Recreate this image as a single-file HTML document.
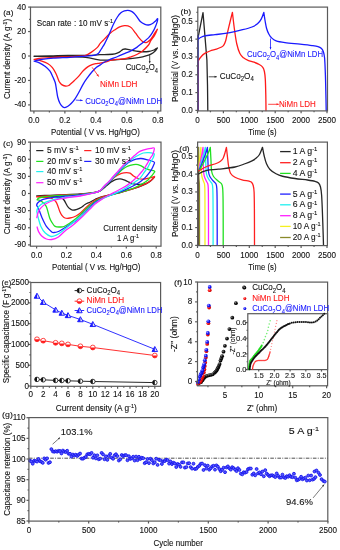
<!DOCTYPE html><html><head><meta charset="utf-8"><style>html,body{margin:0;padding:0;background:#fff;width:340px;height:550px;overflow:hidden}svg{display:block;will-change:transform}text{font-family:"Liberation Sans",sans-serif}</style></head><body>
<svg width="340" height="550" viewBox="0 0 340 550">
<defs><radialGradient id="gk" cx="0.35" cy="0.35" r="0.7"><stop offset="0" stop-color="#888"/><stop offset="0.5" stop-color="#111"/><stop offset="1" stop-color="#000"/></radialGradient><radialGradient id="gr" cx="0.35" cy="0.35" r="0.7"><stop offset="0" stop-color="#ffaaaa"/><stop offset="0.5" stop-color="#ff1010"/><stop offset="1" stop-color="#c00000"/></radialGradient><radialGradient id="gb" cx="0.35" cy="0.35" r="0.7"><stop offset="0" stop-color="#aaaaff"/><stop offset="0.5" stop-color="#1a1aff"/><stop offset="1" stop-color="#0000c0"/></radialGradient></defs>
<rect width="340" height="550" fill="#fff"/>
<path d="M34.1,56.1 C36.75,56.08 44.35,56.12 50,56 C55.65,55.88 61.08,55.5 68,55.4 C74.92,55.3 86.17,55.52 91.5,55.4 C96.83,55.28 97.25,54.85 100,54.7 C102.75,54.55 105.5,54.65 108,54.5 C110.5,54.35 113.1,54.2 115,53.8 C116.9,53.4 118.08,52.83 119.4,52.1 C120.72,51.37 121.87,49.92 122.9,49.4 C123.93,48.88 124.42,48.92 125.6,49 C126.78,49.08 127.75,49.48 130,49.9 C132.25,50.32 136.02,51.23 139.1,51.5 C142.18,51.77 145.95,51.78 148.5,51.5 C151.05,51.22 152.92,50.38 154.4,49.8 C155.88,49.22 157.6,47.52 157.4,48 C157.2,48.48 154.68,51.52 153.2,52.7 C151.72,53.88 150.27,54.42 148.5,55.1 C146.73,55.78 144.55,56.35 142.6,56.8 C140.65,57.25 139.73,57.4 136.8,57.8 C133.87,58.2 128.63,58.85 125,59.2 C121.37,59.55 117.83,59.75 115,59.9 C112.17,60.05 109.95,60.05 108,60.1 C106.05,60.15 105.07,60.28 103.3,60.2 C101.53,60.12 100.35,60.07 97.4,59.6 C94.45,59.13 90.5,57.9 85.6,57.4 C80.7,56.9 73.93,56.75 68,56.6 C62.07,56.45 55.65,56.53 50,56.5 C44.35,56.47 36.75,56.42 34.1,56.4" fill="none" stroke="#262626" stroke-width="1.3" stroke-linejoin="round" stroke-linecap="round" />
<path d="M34.1,59.4 C35.38,59.2 38.57,58.55 41.8,58.2 C45.03,57.85 48.8,57.53 53.5,57.3 C58.2,57.07 65.62,56.98 70,56.8 C74.38,56.62 77.2,56.43 79.8,56.2 C82.4,55.97 83.65,56.08 85.6,55.4 C87.55,54.72 89.53,53.43 91.5,52.1 C93.47,50.77 95.98,48.8 97.4,47.4 C98.82,46 99.02,44.9 100,43.7 C100.98,42.5 102.12,41.45 103.3,40.2 C104.48,38.95 105.82,37.48 107.1,36.2 C108.38,34.92 109.68,33.58 111,32.5 C112.32,31.42 113.55,30.65 115,29.7 C116.45,28.75 118.13,27.48 119.7,26.8 C121.27,26.12 123.03,25.75 124.4,25.6 C125.77,25.45 126.72,25.52 127.9,25.9 C129.08,26.28 130.22,26.68 131.5,27.9 C132.78,29.12 134.33,31.53 135.6,33.2 C136.87,34.87 137.93,36.52 139.1,37.9 C140.27,39.28 141.42,40.72 142.6,41.5 C143.78,42.28 145.02,42.8 146.2,42.6 C147.38,42.4 148.53,41.47 149.7,40.3 C150.87,39.13 151.92,37.47 153.2,35.6 C154.48,33.73 157.2,29.1 157.4,29.1 C157.6,29.1 155.48,33.73 154.4,35.6 C153.32,37.47 151.88,38.73 150.9,40.3 C149.92,41.87 149.88,43.23 148.5,45 C147.12,46.77 144.55,49.32 142.6,50.9 C140.65,52.48 138.75,53.52 136.8,54.5 C134.85,55.48 132.87,56.12 130.9,56.8 C128.93,57.48 127.15,58.18 125,58.6 C122.85,59.02 120.25,59.03 118,59.3 C115.75,59.57 113.5,59.78 111.5,60.2 C109.5,60.62 107.92,61.3 106,61.8 C104.08,62.3 101.58,62.9 100,63.2 C98.42,63.5 97.82,63.37 96.5,63.6 C95.18,63.83 93.57,64.05 92.1,64.6 C90.63,65.15 89.18,65.87 87.7,66.9 C86.22,67.93 84.68,69.27 83.2,70.8 C81.72,72.33 80.27,74.48 78.8,76.1 C77.33,77.72 75.78,79.18 74.4,80.5 C73.02,81.82 71.43,83.17 70.5,84 C69.57,84.83 69.68,85.17 68.8,85.5 C67.92,85.83 66.38,86.15 65.2,86 C64.02,85.85 62.65,85.27 61.7,84.6 C60.75,83.93 60.03,82.77 59.5,82 C58.97,81.23 59.1,81.42 58.5,80 C57.9,78.58 56.92,75.57 55.9,73.5 C54.88,71.43 53.78,69.27 52.4,67.6 C51.02,65.93 49.37,64.57 47.6,63.5 C45.83,62.43 44.05,61.88 41.8,61.2 C39.55,60.52 35.38,59.7 34.1,59.4" fill="none" stroke="#ff1a1a" stroke-width="1.3" stroke-linejoin="round" stroke-linecap="round" />
<path d="M34.1,61.2 C34.75,61.03 36.72,60.5 38,60.2 C39.28,59.9 39.22,59.73 41.8,59.4 C44.38,59.07 48.8,58.55 53.5,58.2 C58.2,57.85 64.65,57.63 70,57.3 C75.35,56.97 81.42,56.57 85.6,56.2 C89.78,55.83 93,55.55 95.1,55.1 C97.2,54.65 97.38,54.15 98.2,53.5 C99.02,52.85 99.35,52.15 100,51.2 C100.65,50.25 101.37,48.98 102.1,47.8 C102.83,46.62 103.43,45.88 104.4,44.1 C105.37,42.32 106.92,39.2 107.9,37.1 C108.88,35 109.32,33.77 110.3,31.5 C111.28,29.23 112.62,25.92 113.8,23.5 C114.98,21.08 116.22,18.78 117.4,17 C118.58,15.22 119.73,13.82 120.9,12.8 C122.07,11.78 123.23,11.32 124.4,10.9 C125.57,10.48 126.72,10.22 127.9,10.3 C129.08,10.38 130.48,10.9 131.5,11.4 C132.52,11.9 133.12,12.43 134,13.3 C134.88,14.17 135.75,15.23 136.8,16.6 C137.85,17.97 138.93,20.2 140.3,21.5 C141.67,22.8 143.63,23.82 145,24.4 C146.37,24.98 147.32,25.1 148.5,25 C149.68,24.9 150.92,24.48 152.1,23.8 C153.28,23.12 154.67,21.72 155.6,20.9 C156.53,20.08 157.7,18.02 157.7,18.9 C157.7,19.78 156.53,23.82 155.6,26.2 C154.67,28.58 153.28,31.25 152.1,33.2 C150.92,35.15 150.08,36.32 148.5,37.9 C146.92,39.48 144.55,41.12 142.6,42.7 C140.65,44.28 138.75,46.03 136.8,47.4 C134.85,48.77 132.87,49.92 130.9,50.9 C128.93,51.88 127.2,52.37 125,53.3 C122.8,54.23 120.4,55.38 117.7,56.5 C115,57.62 111.2,58.97 108.8,60 C106.4,61.03 104.77,61.85 103.3,62.7 C101.83,63.55 101.13,64.33 100,65.1 C98.87,65.87 97.82,66.2 96.5,67.3 C95.18,68.4 93.57,70.02 92.1,71.7 C90.63,73.38 89.18,75.33 87.7,77.4 C86.22,79.47 84.73,81.5 83.2,84.1 C81.67,86.7 79.87,90.55 78.5,93 C77.13,95.45 76.18,97.1 75,98.8 C73.82,100.5 72.58,101.95 71.4,103.2 C70.22,104.45 69,105.57 67.9,106.3 C66.8,107.03 65.68,107.53 64.8,107.6 C63.92,107.67 63.42,107.43 62.6,106.7 C61.78,105.97 60.72,104.82 59.9,103.2 C59.08,101.58 58.28,99.35 57.7,97 C57.12,94.65 56.82,91.52 56.4,89.1 C55.98,86.68 55.78,84.5 55.2,82.5 C54.62,80.5 53.77,78.98 52.9,77.1 C52.03,75.22 51.27,72.97 50,71.2 C48.73,69.43 47.07,67.88 45.3,66.5 C43.53,65.12 41.27,63.78 39.4,62.9 C37.53,62.02 34.98,61.48 34.1,61.2" fill="none" stroke="#1a1aff" stroke-width="1.3" stroke-linejoin="round" stroke-linecap="round" />
<rect x="30.5" y="7.1" width="130.3" height="103.9" fill="none" stroke="#5a5a5a" stroke-width="1.2"/>
<line x1="28.1" y1="7.1" x2="30.5" y2="7.1" stroke="#5a5a5a" stroke-width="1.2"/>
<text x="26.1" y="9.6" font-size="8.5" text-anchor="end" fill="#111" stroke="#111" stroke-width="0.1" textLength="9.01" lengthAdjust="spacingAndGlyphs">40</text>
<line x1="28.1" y1="31.55" x2="30.5" y2="31.55" stroke="#5a5a5a" stroke-width="1.2"/>
<text x="26.1" y="34.05" font-size="8.5" text-anchor="end" fill="#111" stroke="#111" stroke-width="0.1" textLength="9.01" lengthAdjust="spacingAndGlyphs">20</text>
<line x1="28.1" y1="56" x2="30.5" y2="56" stroke="#5a5a5a" stroke-width="1.2"/>
<text x="26.1" y="58.5" font-size="8.5" text-anchor="end" fill="#111" stroke="#111" stroke-width="0.1" textLength="4.5" lengthAdjust="spacingAndGlyphs">0</text>
<line x1="28.1" y1="80.45" x2="30.5" y2="80.45" stroke="#5a5a5a" stroke-width="1.2"/>
<text x="26.1" y="82.95" font-size="8.5" text-anchor="end" fill="#111" stroke="#111" stroke-width="0.1" textLength="11.71" lengthAdjust="spacingAndGlyphs">-20</text>
<line x1="28.1" y1="104.9" x2="30.5" y2="104.9" stroke="#5a5a5a" stroke-width="1.2"/>
<text x="26.1" y="107.4" font-size="8.5" text-anchor="end" fill="#111" stroke="#111" stroke-width="0.1" textLength="11.71" lengthAdjust="spacingAndGlyphs">-40</text>
<line x1="29.1" y1="19.33" x2="30.5" y2="19.33" stroke="#5a5a5a" stroke-width="1.2"/>
<line x1="29.1" y1="43.77" x2="30.5" y2="43.77" stroke="#5a5a5a" stroke-width="1.2"/>
<line x1="29.1" y1="68.22" x2="30.5" y2="68.22" stroke="#5a5a5a" stroke-width="1.2"/>
<line x1="29.1" y1="92.67" x2="30.5" y2="92.67" stroke="#5a5a5a" stroke-width="1.2"/>
<line x1="33.9" y1="111" x2="33.9" y2="113.4" stroke="#5a5a5a" stroke-width="1.2"/>
<text x="33.9" y="122.8" font-size="8.5" text-anchor="middle" fill="#111" stroke="#111" stroke-width="0.1" textLength="11.26" lengthAdjust="spacingAndGlyphs">0.0</text>
<line x1="64.88" y1="111" x2="64.88" y2="113.4" stroke="#5a5a5a" stroke-width="1.2"/>
<text x="64.88" y="122.8" font-size="8.5" text-anchor="middle" fill="#111" stroke="#111" stroke-width="0.1" textLength="11.26" lengthAdjust="spacingAndGlyphs">0.2</text>
<line x1="95.86" y1="111" x2="95.86" y2="113.4" stroke="#5a5a5a" stroke-width="1.2"/>
<text x="95.86" y="122.8" font-size="8.5" text-anchor="middle" fill="#111" stroke="#111" stroke-width="0.1" textLength="11.26" lengthAdjust="spacingAndGlyphs">0.4</text>
<line x1="126.84" y1="111" x2="126.84" y2="113.4" stroke="#5a5a5a" stroke-width="1.2"/>
<text x="126.84" y="122.8" font-size="8.5" text-anchor="middle" fill="#111" stroke="#111" stroke-width="0.1" textLength="11.26" lengthAdjust="spacingAndGlyphs">0.6</text>
<line x1="157.82" y1="111" x2="157.82" y2="113.4" stroke="#5a5a5a" stroke-width="1.2"/>
<text x="157.82" y="122.8" font-size="8.5" text-anchor="middle" fill="#111" stroke="#111" stroke-width="0.1" textLength="11.26" lengthAdjust="spacingAndGlyphs">0.8</text>
<line x1="49.39" y1="111" x2="49.39" y2="112.4" stroke="#5a5a5a" stroke-width="1.2"/>
<line x1="80.37" y1="111" x2="80.37" y2="112.4" stroke="#5a5a5a" stroke-width="1.2"/>
<line x1="111.35" y1="111" x2="111.35" y2="112.4" stroke="#5a5a5a" stroke-width="1.2"/>
<line x1="142.33" y1="111" x2="142.33" y2="112.4" stroke="#5a5a5a" stroke-width="1.2"/>
<text x="3.32" y="15.2" font-size="8.0" text-anchor="start" fill="#111" stroke="#111" stroke-width="0.1"  textLength="10.06" lengthAdjust="spacingAndGlyphs">(a)</text>
<text x="0" y="0" font-size="8.5" text-anchor="start" fill="#111" textLength="80.32" lengthAdjust="spacingAndGlyphs" stroke="#111" stroke-width="0.1" transform="translate(10.2,99.11) rotate(-90)">Current density (A g<tspan dy="-2.81" font-size="5.78">-1</tspan><tspan dy="2.81">)</tspan></text>
<text x="51.09" y="135.3" font-size="8.5" text-anchor="start" fill="#111" stroke="#111" stroke-width="0.1"  textLength="88.72" lengthAdjust="spacingAndGlyphs">Potential ( V vs. Hg/HgO)</text>
<text x="36.87" y="26.3" font-size="8.8" text-anchor="start" fill="#111" stroke="#111" stroke-width="0.1"  textLength="76.26" lengthAdjust="spacingAndGlyphs">Scan rate : 10 mV s<tspan dy="-2.9" font-size="5.98">-1</tspan></text>
<line x1="149.7" y1="55.1" x2="149.7" y2="63.3" stroke="#262626" stroke-width="0.8"/>
<path d="M149.7,63.3 L148.77,61.09 L150.63,61.09 Z" fill="#262626"/>
<text x="125.67" y="70.2" font-size="8.8" text-anchor="start" fill="#111" stroke="#111" stroke-width="0.1"  textLength="32.26" lengthAdjust="spacingAndGlyphs">CuCo<tspan dy="2.64" font-size="6.51">2</tspan><tspan dy="-2.64">O</tspan><tspan dy="2.64" font-size="6.51">4</tspan></text>
<line x1="92.1" y1="67.3" x2="98.7" y2="76.6" stroke="#ff1a1a" stroke-width="0.8"/>
<path d="M98.7,76.6 L96.49,75.23 L98.14,74.06 Z" fill="#ff1a1a"/>
<text x="99.97" y="86.6" font-size="8.8" text-anchor="start" fill="#ff1a1a" stroke="#ff1a1a" stroke-width="0.1"  textLength="37.46" lengthAdjust="spacingAndGlyphs">NiMn LDH</text>
<line x1="75.8" y1="100.1" x2="82.6" y2="100.5" stroke="#1a1aff" stroke-width="0.8"/>
<path d="M82.6,100.5 L80.15,101.37 L80.27,99.35 Z" fill="#1a1aff"/>
<text x="85.27" y="103.6" font-size="8.8" text-anchor="start" fill="#1a1aff" stroke="#1a1aff" stroke-width="0.1"  textLength="76.86" lengthAdjust="spacingAndGlyphs">CuCo<tspan dy="2.64" font-size="6.51">2</tspan><tspan dy="-2.64">O</tspan><tspan dy="2.64" font-size="6.51">4</tspan><tspan dy="-2.64">@NiMn LDH</tspan></text>
<path d="M197.9,110.5 L197.9,40 L198.1,37.4 L203,12.6 L204.8,34.4 L206.9,60 L207.5,85 L207.8,110.5" fill="none" stroke="#262626" stroke-width="1.3" stroke-linejoin="round" stroke-linecap="round" />
<path d="M198,110.5 C198,102.75 197.92,72.33 198,64 C198.08,55.67 197.92,61.8 198.5,60.5 C199.08,59.2 200.45,57.38 201.5,56.2 C202.55,55.02 203.38,54.27 204.8,53.4 C206.22,52.53 208.05,51.72 210,51 C211.95,50.28 214.67,49.72 216.5,49.1 C218.33,48.48 219.82,47.93 221,47.3 C222.18,46.67 222.83,46.35 223.6,45.3 C224.37,44.25 224.98,42.98 225.6,41 C226.22,39.02 226.58,36.48 227.3,33.4 C228.02,30.32 229.05,26 229.9,22.5 C230.75,19 231.98,14.08 232.4,12.4 L232.4,12.4 C232.73,15.17 233.67,23.73 234.4,29 C235.13,34.27 235.88,39.92 236.8,44 C237.72,48.08 238.78,51.2 239.9,53.5 C241.02,55.8 242.15,56.67 243.5,57.8 C244.85,58.93 246.25,59.57 248,60.3 C249.75,61.03 252.12,61.5 254,62.2 C255.88,62.9 257.83,63.65 259.3,64.5 C260.77,65.35 261.95,66.13 262.8,67.3 C263.65,68.47 263.98,69.53 264.4,71.5 C264.82,73.47 265.07,75.18 265.3,79.1 C265.53,83.02 265.68,89.77 265.8,95 C265.92,100.23 265.97,107.92 266,110.5" fill="none" stroke="#ff1a1a" stroke-width="1.3" stroke-linejoin="round" stroke-linecap="round" />
<path d="M197.9,110.5 C197.9,98.92 197.8,52.88 197.9,41 C198,29.12 197.98,39.82 198.5,39.2 C199.02,38.58 199.95,37.87 201,37.3 C202.05,36.73 202.47,36.25 204.8,35.8 C207.13,35.35 211.3,35.03 215,34.6 C218.7,34.17 222.4,34.02 227,33.2 C231.6,32.38 238.43,30.73 242.6,29.7 C246.77,28.67 249.52,27.98 252,27 C254.48,26.02 255.97,25.12 257.5,23.8 C259.03,22.48 260.15,21 261.2,19.1 C262.25,17.2 263.37,13.52 263.8,12.4 L263.8,12.4 C264.03,13.92 264.73,18.82 265.2,21.5 C265.67,24.18 266,26.42 266.6,28.5 C267.2,30.58 267.98,32.45 268.8,34 C269.62,35.55 270.28,36.67 271.5,37.8 C272.72,38.93 273.85,40 276.1,40.8 C278.35,41.6 281.02,42.03 285,42.6 C288.98,43.17 295.5,43.7 300,44.2 C304.5,44.7 309,45.2 312,45.6 C315,46 316.47,46.17 318,46.6 C319.53,47.03 320.32,47.38 321.2,48.2 C322.08,49.02 322.73,49.87 323.3,51.5 C323.87,53.13 324.25,54.08 324.6,58 C324.95,61.92 325.18,68.83 325.4,75 C325.62,81.17 325.77,89.08 325.9,95 C326.03,100.92 326.15,107.92 326.2,110.5" fill="none" stroke="#1a1aff" stroke-width="1.3" stroke-linejoin="round" stroke-linecap="round" />
<rect x="197.8" y="7.1" width="129.7" height="103.8" fill="none" stroke="#5a5a5a" stroke-width="1.2"/>
<line x1="195.4" y1="21.3" x2="197.8" y2="21.3" stroke="#5a5a5a" stroke-width="1.2"/>
<text x="192.7" y="23.8" font-size="8.5" text-anchor="end" fill="#111" stroke="#111" stroke-width="0.1" textLength="11.26" lengthAdjust="spacingAndGlyphs">0.5</text>
<line x1="195.4" y1="39.12" x2="197.8" y2="39.12" stroke="#5a5a5a" stroke-width="1.2"/>
<text x="192.7" y="41.62" font-size="8.5" text-anchor="end" fill="#111" stroke="#111" stroke-width="0.1" textLength="11.26" lengthAdjust="spacingAndGlyphs">0.4</text>
<line x1="195.4" y1="56.94" x2="197.8" y2="56.94" stroke="#5a5a5a" stroke-width="1.2"/>
<text x="192.7" y="59.44" font-size="8.5" text-anchor="end" fill="#111" stroke="#111" stroke-width="0.1" textLength="11.26" lengthAdjust="spacingAndGlyphs">0.3</text>
<line x1="195.4" y1="74.76" x2="197.8" y2="74.76" stroke="#5a5a5a" stroke-width="1.2"/>
<text x="192.7" y="77.26" font-size="8.5" text-anchor="end" fill="#111" stroke="#111" stroke-width="0.1" textLength="11.26" lengthAdjust="spacingAndGlyphs">0.2</text>
<line x1="195.4" y1="92.58" x2="197.8" y2="92.58" stroke="#5a5a5a" stroke-width="1.2"/>
<text x="192.7" y="95.08" font-size="8.5" text-anchor="end" fill="#111" stroke="#111" stroke-width="0.1" textLength="11.26" lengthAdjust="spacingAndGlyphs">0.1</text>
<line x1="195.4" y1="110.4" x2="197.8" y2="110.4" stroke="#5a5a5a" stroke-width="1.2"/>
<text x="192.7" y="112.9" font-size="8.5" text-anchor="end" fill="#111" stroke="#111" stroke-width="0.1" textLength="11.26" lengthAdjust="spacingAndGlyphs">0.0</text>
<line x1="196.4" y1="12.39" x2="197.8" y2="12.39" stroke="#5a5a5a" stroke-width="1.2"/>
<line x1="196.4" y1="30.21" x2="197.8" y2="30.21" stroke="#5a5a5a" stroke-width="1.2"/>
<line x1="196.4" y1="48.03" x2="197.8" y2="48.03" stroke="#5a5a5a" stroke-width="1.2"/>
<line x1="196.4" y1="65.85" x2="197.8" y2="65.85" stroke="#5a5a5a" stroke-width="1.2"/>
<line x1="196.4" y1="83.67" x2="197.8" y2="83.67" stroke="#5a5a5a" stroke-width="1.2"/>
<line x1="196.4" y1="101.49" x2="197.8" y2="101.49" stroke="#5a5a5a" stroke-width="1.2"/>
<line x1="197.5" y1="110.9" x2="197.5" y2="113.3" stroke="#5a5a5a" stroke-width="1.2"/>
<text x="197.5" y="122.8" font-size="8.5" text-anchor="middle" fill="#111" stroke="#111" stroke-width="0.1" textLength="4.5" lengthAdjust="spacingAndGlyphs">0</text>
<line x1="223.4" y1="110.9" x2="223.4" y2="113.3" stroke="#5a5a5a" stroke-width="1.2"/>
<text x="223.4" y="122.8" font-size="8.5" text-anchor="middle" fill="#111" stroke="#111" stroke-width="0.1" textLength="13.51" lengthAdjust="spacingAndGlyphs">500</text>
<line x1="249.3" y1="110.9" x2="249.3" y2="113.3" stroke="#5a5a5a" stroke-width="1.2"/>
<text x="249.3" y="122.8" font-size="8.5" text-anchor="middle" fill="#111" stroke="#111" stroke-width="0.1" textLength="18.02" lengthAdjust="spacingAndGlyphs">1000</text>
<line x1="275.2" y1="110.9" x2="275.2" y2="113.3" stroke="#5a5a5a" stroke-width="1.2"/>
<text x="275.2" y="122.8" font-size="8.5" text-anchor="middle" fill="#111" stroke="#111" stroke-width="0.1" textLength="18.02" lengthAdjust="spacingAndGlyphs">1500</text>
<line x1="301.1" y1="110.9" x2="301.1" y2="113.3" stroke="#5a5a5a" stroke-width="1.2"/>
<text x="301.1" y="122.8" font-size="8.5" text-anchor="middle" fill="#111" stroke="#111" stroke-width="0.1" textLength="18.02" lengthAdjust="spacingAndGlyphs">2000</text>
<line x1="327" y1="110.9" x2="327" y2="113.3" stroke="#5a5a5a" stroke-width="1.2"/>
<text x="327" y="122.8" font-size="8.5" text-anchor="middle" fill="#111" stroke="#111" stroke-width="0.1" textLength="18.02" lengthAdjust="spacingAndGlyphs">2500</text>
<line x1="210.45" y1="110.9" x2="210.45" y2="112.3" stroke="#5a5a5a" stroke-width="1.2"/>
<line x1="236.35" y1="110.9" x2="236.35" y2="112.3" stroke="#5a5a5a" stroke-width="1.2"/>
<line x1="262.25" y1="110.9" x2="262.25" y2="112.3" stroke="#5a5a5a" stroke-width="1.2"/>
<line x1="288.15" y1="110.9" x2="288.15" y2="112.3" stroke="#5a5a5a" stroke-width="1.2"/>
<line x1="314.05" y1="110.9" x2="314.05" y2="112.3" stroke="#5a5a5a" stroke-width="1.2"/>
<text x="180.52" y="14.2" font-size="8.0" text-anchor="start" fill="#111" stroke="#111" stroke-width="0.1"  textLength="10.66" lengthAdjust="spacingAndGlyphs">(b)</text>
<text x="0" y="0" font-size="8.5" text-anchor="start" fill="#111" textLength="87.12" lengthAdjust="spacingAndGlyphs" stroke="#111" stroke-width="0.1" transform="translate(177.8,102.11) rotate(-90)">Potential (V vs. Hg/HgO)</text>
<text x="248.29" y="135.3" font-size="8.5" text-anchor="start" fill="#111" stroke="#111" stroke-width="0.1"  textLength="28.22" lengthAdjust="spacingAndGlyphs">Time (s)</text>
<line x1="208.7" y1="76.8" x2="216.8" y2="76.8" stroke="#262626" stroke-width="0.8"/>
<path d="M216.8,76.8 L214.59,77.73 L214.59,75.87 Z" fill="#262626"/>
<text x="219.87" y="78.8" font-size="8.8" text-anchor="start" fill="#111" stroke="#111" stroke-width="0.1"  textLength="33.86" lengthAdjust="spacingAndGlyphs">CuCo<tspan dy="2.64" font-size="6.51">2</tspan><tspan dy="-2.64">O</tspan><tspan dy="2.64" font-size="6.51">4</tspan></text>
<line x1="270.5" y1="38.5" x2="270.5" y2="49.3" stroke="#1a1aff" stroke-width="0.8"/>
<path d="M270.5,49.3 L269.57,47.09 L271.43,47.09 Z" fill="#1a1aff"/>
<text x="246.97" y="57" font-size="8.8" text-anchor="start" fill="#1a1aff" stroke="#1a1aff" stroke-width="0.1"  textLength="76.06" lengthAdjust="spacingAndGlyphs">CuCo<tspan dy="2.64" font-size="6.51">2</tspan><tspan dy="-2.64">O</tspan><tspan dy="2.64" font-size="6.51">4</tspan><tspan dy="-2.64">@NiMn LDH</tspan></text>
<line x1="268.2" y1="104.3" x2="278.8" y2="104.3" stroke="#ff1a1a" stroke-width="0.8"/>
<path d="M278.8,104.3 L276.59,105.23 L276.59,103.37 Z" fill="#ff1a1a"/>
<text x="279.07" y="106.5" font-size="8.8" text-anchor="start" fill="#ff1a1a" stroke="#ff1a1a" stroke-width="0.1"  textLength="36.76" lengthAdjust="spacingAndGlyphs">NiMn LDH</text>
<path d="M37.2,195.8 C39.33,195.72 46.2,195.47 50,195.3 C53.8,195.13 55,195.02 60,194.8 C65,194.58 74.17,194.42 80,194 C85.83,193.58 91.67,192.8 95,192.3 C98.33,191.8 98.5,191.72 100,191 C101.5,190.28 102.67,189.08 104,188 C105.33,186.92 106.75,185.53 108,184.5 C109.25,183.47 110.25,182.62 111.5,181.8 C112.75,180.98 114.08,180.08 115.5,179.6 C116.92,179.12 118.58,178.87 120,178.9 C121.42,178.93 122.73,179.37 124,179.8 C125.27,180.23 126.02,180.83 127.6,181.5 C129.18,182.17 131.33,183.32 133.5,183.8 C135.67,184.28 138.35,184.53 140.6,184.4 C142.85,184.27 145.27,183.65 147,183 C148.73,182.35 149.75,181.5 151,180.5 C152.25,179.5 154.62,176.87 154.5,177 C154.38,177.13 151.73,180.15 150.3,181.3 C148.87,182.45 147.92,182.92 145.9,183.9 C143.88,184.88 140.85,186.23 138.2,187.2 C135.55,188.17 133.03,188.8 130,189.7 C126.97,190.6 123.33,191.75 120,192.6 C116.67,193.45 113.33,194.02 110,194.8 C106.67,195.58 102.5,196.52 100,197.3 C97.5,198.08 96.62,198.72 95,199.5 C93.38,200.28 91.97,201.17 90.3,202 C88.63,202.83 86.47,203.62 85,204.5 C83.53,205.38 82.83,206.5 81.5,207.3 C80.17,208.1 78.48,208.83 77,209.3 C75.52,209.77 73.85,210.23 72.6,210.1 C71.35,209.97 70.38,209.18 69.5,208.5 C68.62,207.82 68.22,207.42 67.3,206 C66.38,204.58 65.07,201.4 64,200 C62.93,198.6 62.4,198.18 60.9,197.6 C59.4,197.02 57.65,196.73 55,196.5 C52.35,196.27 47.97,196.28 45,196.2 C42.03,196.12 38.5,196.07 37.2,196 C35.9,195.93 37.2,195.83 37.2,195.8" fill="none" stroke="#262626" stroke-width="1.3" stroke-linejoin="round" stroke-linecap="round" />
<path d="M37.2,196.6 C39.33,196.47 46.2,196.03 50,195.8 C53.8,195.57 55,195.45 60,195.2 C65,194.95 74.17,194.77 80,194.3 C85.83,193.83 91.67,192.98 95,192.4 C98.33,191.82 98.42,191.78 100,190.8 C101.58,189.82 103.03,187.88 104.5,186.5 C105.97,185.12 107.35,183.88 108.8,182.5 C110.25,181.12 111.75,179.42 113.2,178.2 C114.65,176.98 116.12,176.02 117.5,175.2 C118.88,174.38 120,173.73 121.5,173.3 C123,172.87 125.08,172.62 126.5,172.6 C127.92,172.58 128.83,172.63 130,173.2 C131.17,173.77 132.13,175.12 133.5,176 C134.87,176.88 136.62,177.98 138.2,178.5 C139.78,179.02 141.43,179.12 143,179.1 C144.57,179.08 146.27,178.65 147.6,178.4 C148.93,178.15 149.85,177.9 151,177.6 C152.15,177.3 154.62,176.02 154.5,176.6 C154.38,177.18 151.73,179.92 150.3,181.1 C148.87,182.28 147.92,182.72 145.9,183.7 C143.88,184.68 140.85,186.02 138.2,187 C135.55,187.98 133.03,188.65 130,189.6 C126.97,190.55 123.33,191.8 120,192.7 C116.67,193.6 113.33,194.15 110,195 C106.67,195.85 102.5,196.88 100,197.8 C97.5,198.72 96.67,199.47 95,200.5 C93.33,201.53 91.67,202.67 90,204 C88.33,205.33 86.5,207.08 85,208.5 C83.5,209.92 82.5,211.25 81,212.5 C79.5,213.75 77.83,215.08 76,216 C74.17,216.92 71.83,217.67 70,218 C68.17,218.33 66.33,218.42 65,218 C63.67,217.58 62.85,216.53 62,215.5 C61.15,214.47 60.65,213.55 59.9,211.8 C59.15,210.05 58.2,206.72 57.5,205 C56.8,203.28 56.62,202.58 55.7,201.5 C54.78,200.42 53.78,199.2 52,198.5 C50.22,197.8 47.47,197.57 45,197.3 C42.53,197.03 38.5,197.02 37.2,196.9 C35.9,196.78 37.2,196.65 37.2,196.6" fill="none" stroke="#ff2020" stroke-width="1.3" stroke-linejoin="round" stroke-linecap="round" />
<path d="M37.1,199.7 C37.37,199.43 37.7,198.55 38.7,198.1 C39.7,197.65 41.22,197.32 43.1,197 C44.98,196.68 47.18,196.43 50,196.2 C52.82,195.97 55,195.87 60,195.6 C65,195.33 74.17,195.12 80,194.6 C85.83,194.08 91.67,193.12 95,192.5 C98.33,191.88 98.5,191.82 100,190.9 C101.5,189.98 102.53,188.4 104,187 C105.47,185.6 107.3,184 108.8,182.5 C110.3,181 111.52,179.45 113,178 C114.48,176.55 116.2,175.17 117.7,173.8 C119.2,172.43 120.62,170.93 122,169.8 C123.38,168.67 124.67,167.73 126,167 C127.33,166.27 128.33,165.85 130,165.4 C131.67,164.95 134.22,164.27 136,164.3 C137.78,164.33 139.23,164.97 140.7,165.6 C142.17,166.23 143.33,167.4 144.8,168.1 C146.27,168.8 148.03,169.38 149.5,169.8 C150.97,170.22 152.72,170.32 153.6,170.6 C154.48,170.88 154.8,171.05 154.8,171.5 C154.8,171.95 154.08,172.62 153.6,173.3 C153.12,173.98 152.48,174.92 151.9,175.6 C151.32,176.28 150.8,176.63 150.1,177.4 C149.4,178.17 148.85,179.22 147.7,180.2 C146.55,181.18 145.32,182.08 143.2,183.3 C141.08,184.52 138.03,186.22 135,187.5 C131.97,188.78 128.33,189.95 125,191 C121.67,192.05 117.83,192.97 115,193.8 C112.17,194.63 110.5,195.17 108,196 C105.5,196.83 102.17,197.88 100,198.8 C97.83,199.72 96.67,200.38 95,201.5 C93.33,202.62 91.67,204.08 90,205.5 C88.33,206.92 86.42,208.67 85,210 C83.58,211.33 83,212.08 81.5,213.5 C80,214.92 77.92,216.92 76,218.5 C74.08,220.08 72,221.67 70,223 C68,224.33 65.67,225.83 64,226.5 C62.33,227.17 61.48,227.02 60,227 C58.52,226.98 56.43,227.15 55.1,226.4 C53.77,225.65 52.92,223.95 52,222.5 C51.08,221.05 50.53,220.32 49.6,217.7 C48.67,215.08 47.5,209.33 46.4,206.8 C45.3,204.27 44.07,203.55 43,202.5 C41.93,201.45 40.98,200.97 40,200.5 C39.02,200.03 37.58,199.83 37.1,199.7" fill="none" stroke="#20e020" stroke-width="1.3" stroke-linejoin="round" stroke-linecap="round" />
<path d="M36.6,205.2 C36.77,204.83 36.88,203.82 37.6,203 C38.32,202.18 39.43,201.03 40.9,200.3 C42.37,199.57 44.05,199.12 46.4,198.6 C48.75,198.08 51.9,197.6 55,197.2 C58.1,196.8 60.83,196.57 65,196.2 C69.17,195.83 75,195.6 80,195 C85,194.4 91.67,193.3 95,192.6 C98.33,191.9 98.5,191.73 100,190.8 C101.5,189.87 102.53,188.42 104,187 C105.47,185.58 107.3,183.83 108.8,182.3 C110.3,180.77 111.52,179.38 113,177.8 C114.48,176.22 116.2,174.38 117.7,172.8 C119.2,171.22 120.62,169.68 122,168.3 C123.38,166.92 124.67,165.6 126,164.5 C127.33,163.4 128.33,162.58 130,161.7 C131.67,160.82 134.17,159.73 136,159.2 C137.83,158.67 139.05,158.38 141,158.5 C142.95,158.62 145.68,159.4 147.7,159.9 C149.72,160.4 151.97,161.03 153.1,161.5 C154.23,161.97 154.42,162.1 154.5,162.7 C154.58,163.3 154.13,163.92 153.6,165.1 C153.07,166.28 152.17,168.33 151.3,169.8 C150.43,171.27 149.38,172.63 148.4,173.9 C147.42,175.17 146.7,176.13 145.4,177.4 C144.1,178.67 142.33,180.23 140.6,181.5 C138.87,182.77 137.6,183.62 135,185 C132.4,186.38 128.33,188.38 125,189.8 C121.67,191.22 117.83,192.47 115,193.5 C112.17,194.53 110.5,195 108,196 C105.5,197 102.17,198.42 100,199.5 C97.83,200.58 96.67,201.25 95,202.5 C93.33,203.75 91.83,205.25 90,207 C88.17,208.75 86.1,210.92 84,213 C81.9,215.08 79.73,217.58 77.4,219.5 C75.07,221.42 72.57,222.83 70,224.5 C67.43,226.17 63.93,228.33 62,229.5 C60.07,230.67 59.73,231 58.4,231.5 C57.07,232 55.1,232.43 54,232.5 C52.9,232.57 53.07,232.92 51.8,231.9 C50.53,230.88 48.03,228.77 46.4,226.4 C44.77,224.03 43.28,220.6 42,217.7 C40.72,214.8 39.6,211.08 38.7,209 C37.8,206.92 36.95,205.83 36.6,205.2" fill="none" stroke="#2020ff" stroke-width="1.3" stroke-linejoin="round" stroke-linecap="round" />
<path d="M36.8,211.5 C36.93,210.98 36.92,209.55 37.6,208.4 C38.28,207.25 39.43,205.68 40.9,204.6 C42.37,203.52 44.05,202.8 46.4,201.9 C48.75,201 51.9,199.93 55,199.2 C58.1,198.47 60.83,198.1 65,197.5 C69.17,196.9 75,196.42 80,195.6 C85,194.78 91.67,193.42 95,192.6 C98.33,191.78 98.5,191.73 100,190.7 C101.5,189.67 102.53,187.87 104,186.4 C105.47,184.93 107.3,183.42 108.8,181.9 C110.3,180.38 111.52,178.9 113,177.3 C114.48,175.7 116.2,173.93 117.7,172.3 C119.2,170.67 120.62,168.95 122,167.5 C123.38,166.05 124.67,164.75 126,163.6 C127.33,162.45 128.33,161.78 130,160.6 C131.67,159.42 133.8,157.77 136,156.5 C138.2,155.23 141.03,153.65 143.2,153 C145.37,152.35 147.23,152.48 149,152.6 C150.77,152.72 152.92,153.38 153.8,153.7 C154.68,154.02 154.3,154.12 154.3,154.5 C154.3,154.88 154,155.42 153.8,156 C153.6,156.58 153.72,156.88 153.1,158 C152.48,159.12 150.98,161.13 150.1,162.7 C149.22,164.27 148.68,165.93 147.8,167.4 C146.92,168.87 145.98,169.83 144.8,171.5 C143.62,173.17 141.98,175.9 140.7,177.4 C139.42,178.9 138.88,179.18 137.1,180.5 C135.32,181.82 132.18,183.88 130,185.3 C127.82,186.72 126.5,187.67 124,189 C121.5,190.33 117.67,192.1 115,193.3 C112.33,194.5 110.5,195.08 108,196.2 C105.5,197.32 102.17,198.78 100,200 C97.83,201.22 96.67,202.17 95,203.5 C93.33,204.83 92,206.17 90,208 C88,209.83 85.8,212.08 83,214.5 C80.2,216.92 76.2,220.08 73.2,222.5 C70.2,224.92 67.47,227.08 65,229 C62.53,230.92 60.23,232.83 58.4,234 C56.57,235.17 55.28,235.62 54,236 C52.72,236.38 52.15,236.8 50.7,236.3 C49.25,235.8 46.93,234.65 45.3,233 C43.67,231.35 42.08,228.95 40.9,226.4 C39.72,223.85 38.88,220.18 38.2,217.7 C37.52,215.22 37.03,212.53 36.8,211.5" fill="none" stroke="#20f0f0" stroke-width="1.3" stroke-linejoin="round" stroke-linecap="round" />
<path d="M36.8,217.7 C37.03,216.8 37.52,213.93 38.2,212.3 C38.88,210.67 39.53,209.37 40.9,207.9 C42.27,206.43 44.05,204.82 46.4,203.5 C48.75,202.18 51.9,200.92 55,200 C58.1,199.08 60.83,198.67 65,198 C69.17,197.33 75,196.88 80,196 C85,195.12 91.67,193.6 95,192.7 C98.33,191.8 98.5,191.68 100,190.6 C101.5,189.52 102.53,187.7 104,186.2 C105.47,184.7 107.3,183.17 108.8,181.6 C110.3,180.03 111.52,178.47 113,176.8 C114.48,175.13 116.2,173.3 117.7,171.6 C119.2,169.9 120.53,168.15 122,166.6 C123.47,165.05 125.17,163.43 126.5,162.3 C127.83,161.17 128.67,160.92 130,159.8 C131.33,158.68 133.03,156.9 134.5,155.6 C135.97,154.3 137.38,152.9 138.8,152 C140.22,151.1 141.52,150.72 143,150.2 C144.48,149.68 146.37,149.22 147.7,148.9 C149.03,148.58 149.9,148.45 151,148.3 C152.1,148.15 153.87,147.38 154.3,148 C154.73,148.62 153.95,150.75 153.6,152 C153.25,153.25 152.73,154.5 152.2,155.5 C151.67,156.5 151.13,156.8 150.4,158 C149.67,159.2 148.73,161.08 147.8,162.7 C146.87,164.32 145.78,166.23 144.8,167.7 C143.82,169.17 142.97,170.18 141.9,171.5 C140.83,172.82 139.28,174.62 138.4,175.6 C137.52,176.58 137.5,176.55 136.6,177.4 C135.7,178.25 134.43,179.5 133,180.7 C131.57,181.9 129.83,183.33 128,184.6 C126.17,185.87 124,187.15 122,188.3 C120,189.45 118,190.47 116,191.5 C114,192.53 112,193.45 110,194.5 C108,195.55 105.67,196.8 104,197.8 C102.33,198.8 101.5,199.47 100,200.5 C98.5,201.53 96.67,202.58 95,204 C93.33,205.42 92,207 90,209 C88,211 85.33,213.75 83,216 C80.67,218.25 77.97,220.75 76,222.5 C74.03,224.25 73.03,225.08 71.2,226.5 C69.37,227.92 67.13,229.25 65,231 C62.87,232.75 60.6,235.58 58.4,237 C56.2,238.42 53.8,239.17 51.8,239.5 C49.8,239.83 48.03,239.53 46.4,239 C44.77,238.47 43.28,237.48 42,236.3 C40.72,235.12 39.52,233.45 38.7,231.9 C37.88,230.35 37.37,227.82 37.1,227" fill="none" stroke="#ff20ff" stroke-width="1.3" stroke-linejoin="round" stroke-linecap="round" />
<rect x="30.4" y="142.1" width="130.6" height="104.1" fill="none" stroke="#5a5a5a" stroke-width="1.2"/>
<line x1="28" y1="142.11" x2="30.4" y2="142.11" stroke="#5a5a5a" stroke-width="1.2"/>
<text x="26.1" y="144.61" font-size="8.5" text-anchor="end" fill="#111" stroke="#111" stroke-width="0.1" textLength="9.01" lengthAdjust="spacingAndGlyphs">90</text>
<line x1="28" y1="159.24" x2="30.4" y2="159.24" stroke="#5a5a5a" stroke-width="1.2"/>
<text x="26.1" y="161.74" font-size="8.5" text-anchor="end" fill="#111" stroke="#111" stroke-width="0.1" textLength="9.01" lengthAdjust="spacingAndGlyphs">60</text>
<line x1="28" y1="176.37" x2="30.4" y2="176.37" stroke="#5a5a5a" stroke-width="1.2"/>
<text x="26.1" y="178.87" font-size="8.5" text-anchor="end" fill="#111" stroke="#111" stroke-width="0.1" textLength="9.01" lengthAdjust="spacingAndGlyphs">30</text>
<line x1="28" y1="193.5" x2="30.4" y2="193.5" stroke="#5a5a5a" stroke-width="1.2"/>
<text x="26.1" y="196" font-size="8.5" text-anchor="end" fill="#111" stroke="#111" stroke-width="0.1" textLength="4.5" lengthAdjust="spacingAndGlyphs">0</text>
<line x1="28" y1="210.63" x2="30.4" y2="210.63" stroke="#5a5a5a" stroke-width="1.2"/>
<text x="26.1" y="213.13" font-size="8.5" text-anchor="end" fill="#111" stroke="#111" stroke-width="0.1" textLength="11.71" lengthAdjust="spacingAndGlyphs">-30</text>
<line x1="28" y1="227.76" x2="30.4" y2="227.76" stroke="#5a5a5a" stroke-width="1.2"/>
<text x="26.1" y="230.26" font-size="8.5" text-anchor="end" fill="#111" stroke="#111" stroke-width="0.1" textLength="11.71" lengthAdjust="spacingAndGlyphs">-60</text>
<line x1="28" y1="244.89" x2="30.4" y2="244.89" stroke="#5a5a5a" stroke-width="1.2"/>
<text x="26.1" y="247.39" font-size="8.5" text-anchor="end" fill="#111" stroke="#111" stroke-width="0.1" textLength="11.71" lengthAdjust="spacingAndGlyphs">-90</text>
<line x1="29" y1="150.68" x2="30.4" y2="150.68" stroke="#5a5a5a" stroke-width="1.2"/>
<line x1="29" y1="167.81" x2="30.4" y2="167.81" stroke="#5a5a5a" stroke-width="1.2"/>
<line x1="29" y1="184.94" x2="30.4" y2="184.94" stroke="#5a5a5a" stroke-width="1.2"/>
<line x1="29" y1="202.06" x2="30.4" y2="202.06" stroke="#5a5a5a" stroke-width="1.2"/>
<line x1="29" y1="219.19" x2="30.4" y2="219.19" stroke="#5a5a5a" stroke-width="1.2"/>
<line x1="29" y1="236.32" x2="30.4" y2="236.32" stroke="#5a5a5a" stroke-width="1.2"/>
<line x1="36.6" y1="246.2" x2="36.6" y2="248.6" stroke="#5a5a5a" stroke-width="1.2"/>
<text x="36.6" y="258.2" font-size="8.5" text-anchor="middle" fill="#111" stroke="#111" stroke-width="0.1" textLength="11.26" lengthAdjust="spacingAndGlyphs">0.0</text>
<line x1="66.5" y1="246.2" x2="66.5" y2="248.6" stroke="#5a5a5a" stroke-width="1.2"/>
<text x="66.5" y="258.2" font-size="8.5" text-anchor="middle" fill="#111" stroke="#111" stroke-width="0.1" textLength="11.26" lengthAdjust="spacingAndGlyphs">0.2</text>
<line x1="96.4" y1="246.2" x2="96.4" y2="248.6" stroke="#5a5a5a" stroke-width="1.2"/>
<text x="96.4" y="258.2" font-size="8.5" text-anchor="middle" fill="#111" stroke="#111" stroke-width="0.1" textLength="11.26" lengthAdjust="spacingAndGlyphs">0.4</text>
<line x1="126.3" y1="246.2" x2="126.3" y2="248.6" stroke="#5a5a5a" stroke-width="1.2"/>
<text x="126.3" y="258.2" font-size="8.5" text-anchor="middle" fill="#111" stroke="#111" stroke-width="0.1" textLength="11.26" lengthAdjust="spacingAndGlyphs">0.6</text>
<line x1="156.2" y1="246.2" x2="156.2" y2="248.6" stroke="#5a5a5a" stroke-width="1.2"/>
<text x="156.2" y="258.2" font-size="8.5" text-anchor="middle" fill="#111" stroke="#111" stroke-width="0.1" textLength="11.26" lengthAdjust="spacingAndGlyphs">0.8</text>
<line x1="51.55" y1="246.2" x2="51.55" y2="247.6" stroke="#5a5a5a" stroke-width="1.2"/>
<line x1="81.45" y1="246.2" x2="81.45" y2="247.6" stroke="#5a5a5a" stroke-width="1.2"/>
<line x1="111.35" y1="246.2" x2="111.35" y2="247.6" stroke="#5a5a5a" stroke-width="1.2"/>
<line x1="141.25" y1="246.2" x2="141.25" y2="247.6" stroke="#5a5a5a" stroke-width="1.2"/>
<text x="3.12" y="145.9" font-size="8.0" text-anchor="start" fill="#111" stroke="#111" stroke-width="0.1"  textLength="9.96" lengthAdjust="spacingAndGlyphs">(c)</text>
<text x="0" y="0" font-size="8.5" text-anchor="start" fill="#111" textLength="80.62" lengthAdjust="spacingAndGlyphs" stroke="#111" stroke-width="0.1" transform="translate(10.2,234.21) rotate(-90)">Current density (A g<tspan dy="-2.81" font-size="5.78">-1</tspan><tspan dy="2.81">)</tspan></text>
<text x="52.09" y="269.8" font-size="8.5" text-anchor="start" fill="#111" stroke="#111" stroke-width="0.1"  textLength="88.42" lengthAdjust="spacingAndGlyphs">Potential ( V <tspan font-style="italic">vs.</tspan> Hg/HgO)</text>
<line x1="36.2" y1="150.6" x2="43.4" y2="150.6" stroke="#262626" stroke-width="1.2"/>
<text x="46.97" y="153.1" font-size="8.8" text-anchor="start" fill="#111" stroke="#111" stroke-width="0.1"  textLength="31.66" lengthAdjust="spacingAndGlyphs">5 mV s<tspan dy="-2.9" font-size="5.98">-1</tspan></text>
<line x1="36.2" y1="161.4" x2="43.4" y2="161.4" stroke="#20e020" stroke-width="1.2"/>
<text x="46.97" y="163.9" font-size="8.8" text-anchor="start" fill="#111" stroke="#111" stroke-width="0.1"  textLength="35.36" lengthAdjust="spacingAndGlyphs">20 mV s<tspan dy="-2.9" font-size="5.98">-1</tspan></text>
<line x1="36.2" y1="171.6" x2="43.4" y2="171.6" stroke="#20f0f0" stroke-width="1.2"/>
<text x="46.97" y="174.1" font-size="8.8" text-anchor="start" fill="#111" stroke="#111" stroke-width="0.1"  textLength="35.36" lengthAdjust="spacingAndGlyphs">40 mV s<tspan dy="-2.9" font-size="5.98">-1</tspan></text>
<line x1="36.2" y1="182.7" x2="43.4" y2="182.7" stroke="#ff20ff" stroke-width="1.2"/>
<text x="46.97" y="185.2" font-size="8.8" text-anchor="start" fill="#111" stroke="#111" stroke-width="0.1"  textLength="35.36" lengthAdjust="spacingAndGlyphs">50 mV s<tspan dy="-2.9" font-size="5.98">-1</tspan></text>
<line x1="84.2" y1="150.6" x2="91.4" y2="150.6" stroke="#ff2020" stroke-width="1.2"/>
<text x="94.97" y="153.1" font-size="8.8" text-anchor="start" fill="#111" stroke="#111" stroke-width="0.1"  textLength="36.06" lengthAdjust="spacingAndGlyphs">10 mV s<tspan dy="-2.9" font-size="5.98">-1</tspan></text>
<line x1="84.2" y1="161.4" x2="91.4" y2="161.4" stroke="#2020ff" stroke-width="1.2"/>
<text x="94.97" y="163.9" font-size="8.8" text-anchor="start" fill="#111" stroke="#111" stroke-width="0.1"  textLength="36.06" lengthAdjust="spacingAndGlyphs">30 mV s<tspan dy="-2.9" font-size="5.98">-1</tspan></text>
<text x="103.37" y="230.5" font-size="8.8" text-anchor="start" fill="#111" stroke="#111" stroke-width="0.1"  textLength="53.96" lengthAdjust="spacingAndGlyphs">Current density</text>
<text x="117.07" y="240.7" font-size="8.8" text-anchor="start" fill="#111" stroke="#111" stroke-width="0.1"  textLength="21.96" lengthAdjust="spacingAndGlyphs">1 A g<tspan dy="-2.9" font-size="5.98">-1</tspan></text>
<path d="M197.8,245.4 C197.8,233.75 197.72,187.65 197.8,175.5 C197.88,163.35 198.24,174.58 198.3,172.5 C198.36,170.42 198.13,166.33 198.16,163 C198.19,159.67 198.41,155.12 198.48,152.5 C198.55,149.88 198.58,148.17 198.6,147.3 L198.6,147.3 C198.61,149.42 198.63,156.05 198.64,160 C198.66,163.95 198.66,168.25 198.69,171 C198.72,173.75 198.75,174.83 198.82,176.5 C198.9,178.17 199.05,179.75 199.14,181 C199.23,182.25 199.34,182.75 199.39,184 C199.45,185.25 199.45,185.83 199.46,188.5 C199.48,191.17 199.49,193.92 199.49,200 C199.5,206.08 199.5,217.43 199.5,225 C199.5,232.57 199.5,242 199.5,245.4" fill="none" stroke="#8a8a2a" stroke-width="1.3" stroke-linejoin="round" stroke-linecap="round" />
<path d="M197.8,245.4 C197.8,233.75 197.72,187.65 197.8,175.5 C197.88,163.35 198.07,174.58 198.3,172.5 C198.53,170.42 198.84,166.33 199.2,163 C199.55,159.67 200.15,155.12 200.44,152.5 C200.72,149.88 200.82,148.17 200.9,147.3 L200.9,147.3 C200.93,149.42 201.04,156.05 201.11,160 C201.17,163.95 201.17,168.25 201.31,171 C201.45,173.75 201.58,174.83 201.93,176.5 C202.27,178.17 202.93,179.75 203.36,181 C203.79,182.25 204.26,182.75 204.51,184 C204.75,185.25 204.76,185.83 204.84,188.5 C204.91,191.17 204.93,193.92 204.96,200 C204.99,206.08 204.99,217.43 205,225 C205.01,232.57 205,242 205,245.4" fill="none" stroke="#f5f020" stroke-width="1.3" stroke-linejoin="round" stroke-linecap="round" />
<path d="M197.8,245.4 C197.8,233.75 197.72,187.65 197.8,175.5 C197.88,163.35 197.91,174.58 198.3,172.5 C198.69,170.42 199.49,166.33 200.14,163 C200.79,159.67 201.74,155.12 202.22,152.5 C202.7,149.88 202.87,148.17 203,147.3 L203,147.3 C203.05,149.42 203.18,156.05 203.28,160 C203.37,163.95 203.37,168.25 203.55,171 C203.73,173.75 203.92,174.83 204.38,176.5 C204.83,178.17 205.72,179.75 206.3,181 C206.88,182.25 207.51,182.75 207.84,184 C208.17,185.25 208.18,185.83 208.28,188.5 C208.38,191.17 208.41,193.92 208.44,200 C208.48,206.08 208.49,217.43 208.5,225 C208.51,232.57 208.5,242 208.5,245.4" fill="none" stroke="#ff20ff" stroke-width="1.3" stroke-linejoin="round" stroke-linecap="round" />
<path d="M197.8,245.4 C197.8,233.75 197.72,187.65 197.8,175.5 C197.88,163.35 197.74,174.58 198.3,172.5 C198.86,170.42 200.2,166.33 201.18,163 C202.15,159.67 203.49,155.12 204.18,152.5 C204.86,149.88 205.11,148.17 205.3,147.3 L205.3,147.3 C205.37,149.42 205.56,156.05 205.69,160 C205.82,163.95 205.82,168.25 206.08,171 C206.34,173.75 206.6,174.83 207.25,176.5 C207.9,178.17 209.16,179.75 209.98,181 C210.8,182.25 211.7,182.75 212.16,184 C212.63,185.25 212.64,185.83 212.79,188.5 C212.93,191.17 212.97,193.92 213.02,200 C213.07,206.08 213.09,217.43 213.1,225 C213.11,232.57 213.1,242 213.1,245.4" fill="none" stroke="#20f0f0" stroke-width="1.3" stroke-linejoin="round" stroke-linecap="round" />
<path d="M197.8,245.4 C197.8,233.75 197.72,187.65 197.8,175.5 C197.88,163.35 197.58,174.58 198.3,172.5 C199.02,170.42 200.84,166.33 202.12,163 C203.4,159.67 205.08,155.12 205.96,152.5 C206.84,149.88 207.16,148.17 207.4,147.3 L207.4,147.3 C207.48,149.42 207.73,156.05 207.89,160 C208.05,163.95 208.05,168.25 208.38,171 C208.71,173.75 209.03,174.83 209.85,176.5 C210.67,178.17 212.25,179.75 213.28,181 C214.31,182.25 215.44,182.75 216.02,184 C216.61,185.25 216.63,185.83 216.81,188.5 C216.99,191.17 217.04,193.92 217.1,200 C217.17,206.08 217.18,217.43 217.2,225 C217.22,232.57 217.2,242 217.2,245.4" fill="none" stroke="#2020ff" stroke-width="1.3" stroke-linejoin="round" stroke-linecap="round" />
<path d="M197.8,245.4 C197.8,233.75 197.72,187.65 197.8,175.5 C197.88,163.35 197.36,174.58 198.3,172.5 C199.24,170.42 201.74,166.33 203.43,163 C205.11,159.67 207.28,155.12 208.43,152.5 C209.57,149.88 209.99,148.17 210.3,147.3 L210.3,147.3 C210.41,149.42 210.73,156.05 210.95,160 C211.16,163.95 211.16,168.25 211.59,171 C212.02,173.75 212.45,174.83 213.53,176.5 C214.6,178.17 216.69,179.75 218.04,181 C219.39,182.25 220.88,182.75 221.65,184 C222.43,185.25 222.45,185.83 222.68,188.5 C222.92,191.17 222.99,193.92 223.07,200 C223.16,206.08 223.18,217.43 223.2,225 C223.22,232.57 223.2,242 223.2,245.4" fill="none" stroke="#20e020" stroke-width="1.3" stroke-linejoin="round" stroke-linecap="round" />
<path d="M197.8,245.4 C197.8,233.5 197.7,186.37 197.8,174 C197.9,161.63 196.9,172.45 198.4,171.2 C199.9,169.95 203.83,167.78 206.8,166.5 C209.77,165.22 213.92,164.38 216.2,163.5 C218.48,162.62 219.37,162.03 220.5,161.2 C221.63,160.37 222.28,159.78 223,158.5 C223.72,157.22 224.23,155.35 224.8,153.5 C225.37,151.65 226.13,148.42 226.4,147.4 L226.4,147.4 C226.58,149 227.13,153.9 227.5,157 C227.87,160.1 228.1,163.3 228.6,166 C229.1,168.7 229.43,171.33 230.5,173.2 C231.57,175.07 233.08,176.1 235,177.2 C236.92,178.3 239.67,179.13 242,179.8 C244.33,180.47 247.42,180.78 249,181.2 C250.58,181.62 250.8,181.58 251.5,182.3 C252.2,183.02 252.77,183.88 253.2,185.5 C253.63,187.12 253.9,187.92 254.1,192 C254.3,196.08 254.33,201.1 254.4,210 C254.47,218.9 254.48,239.5 254.5,245.4" fill="none" stroke="#ff2020" stroke-width="1.3" stroke-linejoin="round" stroke-linecap="round" />
<path d="M197.8,245.4 C197.8,234 197.68,188.88 197.8,177 C197.92,165.12 197,175.2 198.5,174.1 C200,173 203.47,171.22 206.8,170.4 C210.13,169.58 213.8,169.77 218.5,169.2 C223.2,168.63 230.58,167.91 235,167 C239.42,166.09 242.17,164.78 245,163.75 C247.83,162.72 250.17,161.71 252,160.8 C253.83,159.89 254.75,159.35 256,158.3 C257.25,157.25 258.42,156.33 259.5,154.5 C260.58,152.67 262,148.5 262.5,147.3 L262.5,147.3 C262.78,148.75 263.53,153.25 264.2,156 C264.87,158.75 265.53,161.55 266.5,163.8 C267.47,166.05 268.42,167.83 270,169.5 C271.58,171.17 273.92,172.68 276,173.8 C278.08,174.93 279.33,175.47 282.5,176.25 C285.67,177.03 290.83,177.88 295,178.5 C299.17,179.12 304.17,179.53 307.5,180 C310.83,180.47 313.17,180.8 315,181.3 C316.83,181.8 317.58,182.05 318.5,183 C319.42,183.95 319.98,185 320.5,187 C321.02,189 321.28,190.83 321.6,195 C321.92,199.17 322.13,205.33 322.4,212 C322.67,218.67 323.02,229.43 323.2,235 C323.38,240.57 323.45,243.67 323.5,245.4" fill="none" stroke="#262626" stroke-width="1.3" stroke-linejoin="round" stroke-linecap="round" />
<rect x="197.6" y="142.1" width="129.8" height="103.5" fill="none" stroke="#5a5a5a" stroke-width="1.2"/>
<line x1="195.2" y1="156.3" x2="197.6" y2="156.3" stroke="#5a5a5a" stroke-width="1.2"/>
<text x="192.7" y="158.8" font-size="8.5" text-anchor="end" fill="#111" stroke="#111" stroke-width="0.1" textLength="11.26" lengthAdjust="spacingAndGlyphs">0.5</text>
<line x1="195.2" y1="174.12" x2="197.6" y2="174.12" stroke="#5a5a5a" stroke-width="1.2"/>
<text x="192.7" y="176.62" font-size="8.5" text-anchor="end" fill="#111" stroke="#111" stroke-width="0.1" textLength="11.26" lengthAdjust="spacingAndGlyphs">0.4</text>
<line x1="195.2" y1="191.94" x2="197.6" y2="191.94" stroke="#5a5a5a" stroke-width="1.2"/>
<text x="192.7" y="194.44" font-size="8.5" text-anchor="end" fill="#111" stroke="#111" stroke-width="0.1" textLength="11.26" lengthAdjust="spacingAndGlyphs">0.3</text>
<line x1="195.2" y1="209.76" x2="197.6" y2="209.76" stroke="#5a5a5a" stroke-width="1.2"/>
<text x="192.7" y="212.26" font-size="8.5" text-anchor="end" fill="#111" stroke="#111" stroke-width="0.1" textLength="11.26" lengthAdjust="spacingAndGlyphs">0.2</text>
<line x1="195.2" y1="227.58" x2="197.6" y2="227.58" stroke="#5a5a5a" stroke-width="1.2"/>
<text x="192.7" y="230.08" font-size="8.5" text-anchor="end" fill="#111" stroke="#111" stroke-width="0.1" textLength="11.26" lengthAdjust="spacingAndGlyphs">0.1</text>
<line x1="195.2" y1="245.4" x2="197.6" y2="245.4" stroke="#5a5a5a" stroke-width="1.2"/>
<text x="192.7" y="247.9" font-size="8.5" text-anchor="end" fill="#111" stroke="#111" stroke-width="0.1" textLength="11.26" lengthAdjust="spacingAndGlyphs">0.0</text>
<line x1="196.2" y1="147.39" x2="197.6" y2="147.39" stroke="#5a5a5a" stroke-width="1.2"/>
<line x1="196.2" y1="165.21" x2="197.6" y2="165.21" stroke="#5a5a5a" stroke-width="1.2"/>
<line x1="196.2" y1="183.03" x2="197.6" y2="183.03" stroke="#5a5a5a" stroke-width="1.2"/>
<line x1="196.2" y1="200.85" x2="197.6" y2="200.85" stroke="#5a5a5a" stroke-width="1.2"/>
<line x1="196.2" y1="218.67" x2="197.6" y2="218.67" stroke="#5a5a5a" stroke-width="1.2"/>
<line x1="196.2" y1="236.49" x2="197.6" y2="236.49" stroke="#5a5a5a" stroke-width="1.2"/>
<line x1="197.5" y1="245.6" x2="197.5" y2="248" stroke="#5a5a5a" stroke-width="1.2"/>
<text x="197.5" y="257.6" font-size="8.5" text-anchor="middle" fill="#111" stroke="#111" stroke-width="0.1" textLength="4.5" lengthAdjust="spacingAndGlyphs">0</text>
<line x1="223.4" y1="245.6" x2="223.4" y2="248" stroke="#5a5a5a" stroke-width="1.2"/>
<text x="223.4" y="257.6" font-size="8.5" text-anchor="middle" fill="#111" stroke="#111" stroke-width="0.1" textLength="13.51" lengthAdjust="spacingAndGlyphs">500</text>
<line x1="249.3" y1="245.6" x2="249.3" y2="248" stroke="#5a5a5a" stroke-width="1.2"/>
<text x="249.3" y="257.6" font-size="8.5" text-anchor="middle" fill="#111" stroke="#111" stroke-width="0.1" textLength="18.02" lengthAdjust="spacingAndGlyphs">1000</text>
<line x1="275.2" y1="245.6" x2="275.2" y2="248" stroke="#5a5a5a" stroke-width="1.2"/>
<text x="275.2" y="257.6" font-size="8.5" text-anchor="middle" fill="#111" stroke="#111" stroke-width="0.1" textLength="18.02" lengthAdjust="spacingAndGlyphs">1500</text>
<line x1="301.1" y1="245.6" x2="301.1" y2="248" stroke="#5a5a5a" stroke-width="1.2"/>
<text x="301.1" y="257.6" font-size="8.5" text-anchor="middle" fill="#111" stroke="#111" stroke-width="0.1" textLength="18.02" lengthAdjust="spacingAndGlyphs">2000</text>
<line x1="327" y1="245.6" x2="327" y2="248" stroke="#5a5a5a" stroke-width="1.2"/>
<text x="327" y="257.6" font-size="8.5" text-anchor="middle" fill="#111" stroke="#111" stroke-width="0.1" textLength="18.02" lengthAdjust="spacingAndGlyphs">2500</text>
<line x1="210.45" y1="245.6" x2="210.45" y2="247" stroke="#5a5a5a" stroke-width="1.2"/>
<line x1="236.35" y1="245.6" x2="236.35" y2="247" stroke="#5a5a5a" stroke-width="1.2"/>
<line x1="262.25" y1="245.6" x2="262.25" y2="247" stroke="#5a5a5a" stroke-width="1.2"/>
<line x1="288.15" y1="245.6" x2="288.15" y2="247" stroke="#5a5a5a" stroke-width="1.2"/>
<line x1="314.05" y1="245.6" x2="314.05" y2="247" stroke="#5a5a5a" stroke-width="1.2"/>
<text x="179.32" y="150.9" font-size="8.0" text-anchor="start" fill="#111" stroke="#111" stroke-width="0.1"  textLength="10.36" lengthAdjust="spacingAndGlyphs">(d)</text>
<text x="0" y="0" font-size="8.5" text-anchor="start" fill="#111" textLength="87.12" lengthAdjust="spacingAndGlyphs" stroke="#111" stroke-width="0.1" transform="translate(177.8,237.11) rotate(-90)">Potential (V <tspan font-style="italic">vs.</tspan> Hg/HgO)</text>
<text x="248.29" y="270.2" font-size="8.5" text-anchor="start" fill="#111" stroke="#111" stroke-width="0.1"  textLength="28.22" lengthAdjust="spacingAndGlyphs">Time (s)</text>
<line x1="280.1" y1="151.6" x2="290.7" y2="151.6" stroke="#262626" stroke-width="1.3"/>
<text x="292.67" y="154.2" font-size="8.8" text-anchor="start" fill="#111" stroke="#111" stroke-width="0.1"  textLength="24.76" lengthAdjust="spacingAndGlyphs">1 A g<tspan dy="-2.9" font-size="5.98">-1</tspan></text>
<line x1="280.1" y1="162.7" x2="290.7" y2="162.7" stroke="#ff2020" stroke-width="1.3"/>
<text x="292.67" y="165.3" font-size="8.8" text-anchor="start" fill="#111" stroke="#111" stroke-width="0.1"  textLength="24.76" lengthAdjust="spacingAndGlyphs">2 A g<tspan dy="-2.9" font-size="5.98">-1</tspan></text>
<line x1="280.1" y1="173.4" x2="290.7" y2="173.4" stroke="#20e020" stroke-width="1.3"/>
<text x="292.67" y="176" font-size="8.8" text-anchor="start" fill="#111" stroke="#111" stroke-width="0.1"  textLength="24.76" lengthAdjust="spacingAndGlyphs">4 A g<tspan dy="-2.9" font-size="5.98">-1</tspan></text>
<line x1="280.1" y1="194.1" x2="290.7" y2="194.1" stroke="#2020ff" stroke-width="1.3"/>
<text x="292.67" y="196.7" font-size="8.8" text-anchor="start" fill="#111" stroke="#111" stroke-width="0.1"  textLength="24.76" lengthAdjust="spacingAndGlyphs">5 A g<tspan dy="-2.9" font-size="5.98">-1</tspan></text>
<line x1="280.1" y1="204.8" x2="290.7" y2="204.8" stroke="#20f0f0" stroke-width="1.3"/>
<text x="292.67" y="207.4" font-size="8.8" text-anchor="start" fill="#111" stroke="#111" stroke-width="0.1"  textLength="24.76" lengthAdjust="spacingAndGlyphs">6 A g<tspan dy="-2.9" font-size="5.98">-1</tspan></text>
<line x1="280.1" y1="215.7" x2="290.7" y2="215.7" stroke="#ff20ff" stroke-width="1.3"/>
<text x="292.67" y="218.3" font-size="8.8" text-anchor="start" fill="#111" stroke="#111" stroke-width="0.1"  textLength="24.76" lengthAdjust="spacingAndGlyphs">8 A g<tspan dy="-2.9" font-size="5.98">-1</tspan></text>
<line x1="280.1" y1="226.4" x2="290.7" y2="226.4" stroke="#f5f020" stroke-width="1.3"/>
<text x="292.67" y="229" font-size="8.8" text-anchor="start" fill="#111" stroke="#111" stroke-width="0.1"  textLength="27.96" lengthAdjust="spacingAndGlyphs">10 A g<tspan dy="-2.9" font-size="5.98">-1</tspan></text>
<line x1="280.1" y1="237.5" x2="290.7" y2="237.5" stroke="#8a8a2a" stroke-width="1.3"/>
<text x="292.67" y="240.1" font-size="8.8" text-anchor="start" fill="#111" stroke="#111" stroke-width="0.1"  textLength="27.96" lengthAdjust="spacingAndGlyphs">20 A g<tspan dy="-2.9" font-size="5.98">-1</tspan></text>
<path d="M37,379.4 L43.2,379.8 L55.6,380.4 L61.8,380.5 L68,380.8 L80.4,381.2 L92.8,381.5 L154.8,382.6" fill="none" stroke="#111" stroke-width="0.9" stroke-linejoin="round" stroke-linecap="round" />
<path d="M37,339.3 L43.2,340.7 L55.6,342.8 L61.8,343.4 L68,344.4 L80.4,346.3 L92.8,347.5 L154.8,355.5" fill="none" stroke="#ff1a1a" stroke-width="0.9" stroke-linejoin="round" stroke-linecap="round" />
<path d="M37,296 L43.2,302.2 L55.6,309.9 L61.8,313 L68,315.4 L80.4,319.5 L92.8,324.3 L154.8,349.3" fill="none" stroke="#1a1aff" stroke-width="0.9" stroke-linejoin="round" stroke-linecap="round" />
<circle cx="37" cy="379.4" r="2.3" fill="#fff" stroke="#111" stroke-width="0.8"/>
<path d="M37,377.1 A2.3,2.3 0 0 0 37,381.7 Z" fill="#111"/>
<circle cx="43.2" cy="379.8" r="2.3" fill="#fff" stroke="#111" stroke-width="0.8"/>
<path d="M43.2,377.5 A2.3,2.3 0 0 0 43.2,382.1 Z" fill="#111"/>
<circle cx="55.6" cy="380.4" r="2.3" fill="#fff" stroke="#111" stroke-width="0.8"/>
<path d="M55.6,378.1 A2.3,2.3 0 0 0 55.6,382.7 Z" fill="#111"/>
<circle cx="61.8" cy="380.5" r="2.3" fill="#fff" stroke="#111" stroke-width="0.8"/>
<path d="M61.8,378.2 A2.3,2.3 0 0 0 61.8,382.8 Z" fill="#111"/>
<circle cx="68" cy="380.8" r="2.3" fill="#fff" stroke="#111" stroke-width="0.8"/>
<path d="M68,378.5 A2.3,2.3 0 0 0 68,383.1 Z" fill="#111"/>
<circle cx="80.4" cy="381.2" r="2.3" fill="#fff" stroke="#111" stroke-width="0.8"/>
<path d="M80.4,378.9 A2.3,2.3 0 0 0 80.4,383.5 Z" fill="#111"/>
<circle cx="92.8" cy="381.5" r="2.3" fill="#fff" stroke="#111" stroke-width="0.8"/>
<path d="M92.8,379.2 A2.3,2.3 0 0 0 92.8,383.8 Z" fill="#111"/>
<circle cx="154.8" cy="382.6" r="2.3" fill="#fff" stroke="#111" stroke-width="0.8"/>
<path d="M154.8,380.3 A2.3,2.3 0 0 0 154.8,384.9 Z" fill="#111"/>
<circle cx="37" cy="339.3" r="2.4" fill="#fff" stroke="#ff1a1a" stroke-width="0.8"/>
<path d="M34.6,339.3 A2.4,2.4 0 0 0 39.4,339.3 Z" fill="#ff1a1a"/>
<circle cx="43.2" cy="340.7" r="2.4" fill="#fff" stroke="#ff1a1a" stroke-width="0.8"/>
<path d="M40.8,340.7 A2.4,2.4 0 0 0 45.6,340.7 Z" fill="#ff1a1a"/>
<circle cx="55.6" cy="342.8" r="2.4" fill="#fff" stroke="#ff1a1a" stroke-width="0.8"/>
<path d="M53.2,342.8 A2.4,2.4 0 0 0 58,342.8 Z" fill="#ff1a1a"/>
<circle cx="61.8" cy="343.4" r="2.4" fill="#fff" stroke="#ff1a1a" stroke-width="0.8"/>
<path d="M59.4,343.4 A2.4,2.4 0 0 0 64.2,343.4 Z" fill="#ff1a1a"/>
<circle cx="68" cy="344.4" r="2.4" fill="#fff" stroke="#ff1a1a" stroke-width="0.8"/>
<path d="M65.6,344.4 A2.4,2.4 0 0 0 70.4,344.4 Z" fill="#ff1a1a"/>
<circle cx="80.4" cy="346.3" r="2.4" fill="#fff" stroke="#ff1a1a" stroke-width="0.8"/>
<path d="M78,346.3 A2.4,2.4 0 0 0 82.8,346.3 Z" fill="#ff1a1a"/>
<circle cx="92.8" cy="347.5" r="2.4" fill="#fff" stroke="#ff1a1a" stroke-width="0.8"/>
<path d="M90.4,347.5 A2.4,2.4 0 0 0 95.2,347.5 Z" fill="#ff1a1a"/>
<circle cx="154.8" cy="355.5" r="2.4" fill="#fff" stroke="#ff1a1a" stroke-width="0.8"/>
<path d="M152.4,355.5 A2.4,2.4 0 0 0 157.2,355.5 Z" fill="#ff1a1a"/>
<path d="M37,293.2 L34.2,298.24 L39.8,298.24 Z" fill="#dde" stroke="#1a1aff" stroke-width="0.95" stroke-linejoin="round"/>
<path d="M37,293.2 L34.2,298.24 L37,298.24 Z" fill="#1a1aff"/>
<path d="M43.2,299.4 L40.4,304.44 L46,304.44 Z" fill="#dde" stroke="#1a1aff" stroke-width="0.95" stroke-linejoin="round"/>
<path d="M43.2,299.4 L40.4,304.44 L43.2,304.44 Z" fill="#1a1aff"/>
<path d="M55.6,307.1 L52.8,312.14 L58.4,312.14 Z" fill="#dde" stroke="#1a1aff" stroke-width="0.95" stroke-linejoin="round"/>
<path d="M55.6,307.1 L52.8,312.14 L55.6,312.14 Z" fill="#1a1aff"/>
<path d="M61.8,310.2 L59,315.24 L64.6,315.24 Z" fill="#dde" stroke="#1a1aff" stroke-width="0.95" stroke-linejoin="round"/>
<path d="M61.8,310.2 L59,315.24 L61.8,315.24 Z" fill="#1a1aff"/>
<path d="M68,312.6 L65.2,317.64 L70.8,317.64 Z" fill="#dde" stroke="#1a1aff" stroke-width="0.95" stroke-linejoin="round"/>
<path d="M68,312.6 L65.2,317.64 L68,317.64 Z" fill="#1a1aff"/>
<path d="M80.4,316.7 L77.6,321.74 L83.2,321.74 Z" fill="#dde" stroke="#1a1aff" stroke-width="0.95" stroke-linejoin="round"/>
<path d="M80.4,316.7 L77.6,321.74 L80.4,321.74 Z" fill="#1a1aff"/>
<path d="M92.8,321.5 L90,326.54 L95.6,326.54 Z" fill="#dde" stroke="#1a1aff" stroke-width="0.95" stroke-linejoin="round"/>
<path d="M92.8,321.5 L90,326.54 L92.8,326.54 Z" fill="#1a1aff"/>
<path d="M154.8,346.5 L152,351.54 L157.6,351.54 Z" fill="#dde" stroke="#1a1aff" stroke-width="0.95" stroke-linejoin="round"/>
<path d="M154.8,346.5 L152,351.54 L154.8,351.54 Z" fill="#1a1aff"/>
<rect x="30.8" y="282.5" width="129.8" height="103.8" fill="none" stroke="#5a5a5a" stroke-width="1.2"/>
<line x1="28.4" y1="282.1" x2="30.8" y2="282.1" stroke="#5a5a5a" stroke-width="1.2"/>
<text x="29.1" y="284.6" font-size="8.5" text-anchor="end" fill="#111" stroke="#111" stroke-width="0.1" textLength="18.02" lengthAdjust="spacingAndGlyphs">2500</text>
<line x1="28.4" y1="302.88" x2="30.8" y2="302.88" stroke="#5a5a5a" stroke-width="1.2"/>
<text x="29.1" y="305.38" font-size="8.5" text-anchor="end" fill="#111" stroke="#111" stroke-width="0.1" textLength="18.02" lengthAdjust="spacingAndGlyphs">2000</text>
<line x1="28.4" y1="323.66" x2="30.8" y2="323.66" stroke="#5a5a5a" stroke-width="1.2"/>
<text x="29.1" y="326.16" font-size="8.5" text-anchor="end" fill="#111" stroke="#111" stroke-width="0.1" textLength="18.02" lengthAdjust="spacingAndGlyphs">1500</text>
<line x1="28.4" y1="344.44" x2="30.8" y2="344.44" stroke="#5a5a5a" stroke-width="1.2"/>
<text x="29.1" y="346.94" font-size="8.5" text-anchor="end" fill="#111" stroke="#111" stroke-width="0.1" textLength="18.02" lengthAdjust="spacingAndGlyphs">1000</text>
<line x1="28.4" y1="365.22" x2="30.8" y2="365.22" stroke="#5a5a5a" stroke-width="1.2"/>
<text x="29.1" y="367.72" font-size="8.5" text-anchor="end" fill="#111" stroke="#111" stroke-width="0.1" textLength="13.51" lengthAdjust="spacingAndGlyphs">500</text>
<line x1="28.4" y1="386" x2="30.8" y2="386" stroke="#5a5a5a" stroke-width="1.2"/>
<text x="29.1" y="388.5" font-size="8.5" text-anchor="end" fill="#111" stroke="#111" stroke-width="0.1" textLength="4.5" lengthAdjust="spacingAndGlyphs">0</text>
<line x1="29.4" y1="292.49" x2="30.8" y2="292.49" stroke="#5a5a5a" stroke-width="1.2"/>
<line x1="29.4" y1="313.27" x2="30.8" y2="313.27" stroke="#5a5a5a" stroke-width="1.2"/>
<line x1="29.4" y1="334.05" x2="30.8" y2="334.05" stroke="#5a5a5a" stroke-width="1.2"/>
<line x1="29.4" y1="354.83" x2="30.8" y2="354.83" stroke="#5a5a5a" stroke-width="1.2"/>
<line x1="29.4" y1="375.61" x2="30.8" y2="375.61" stroke="#5a5a5a" stroke-width="1.2"/>
<line x1="30.8" y1="386.3" x2="30.8" y2="388.7" stroke="#5a5a5a" stroke-width="1.2"/>
<text x="30.8" y="397.4" font-size="8.5" text-anchor="middle" fill="#111" stroke="#111" stroke-width="0.1" textLength="4.5" lengthAdjust="spacingAndGlyphs">0</text>
<line x1="43.2" y1="386.3" x2="43.2" y2="388.7" stroke="#5a5a5a" stroke-width="1.2"/>
<text x="43.2" y="397.4" font-size="8.5" text-anchor="middle" fill="#111" stroke="#111" stroke-width="0.1" textLength="4.5" lengthAdjust="spacingAndGlyphs">2</text>
<line x1="55.6" y1="386.3" x2="55.6" y2="388.7" stroke="#5a5a5a" stroke-width="1.2"/>
<text x="55.6" y="397.4" font-size="8.5" text-anchor="middle" fill="#111" stroke="#111" stroke-width="0.1" textLength="4.5" lengthAdjust="spacingAndGlyphs">4</text>
<line x1="68" y1="386.3" x2="68" y2="388.7" stroke="#5a5a5a" stroke-width="1.2"/>
<text x="68" y="397.4" font-size="8.5" text-anchor="middle" fill="#111" stroke="#111" stroke-width="0.1" textLength="4.5" lengthAdjust="spacingAndGlyphs">6</text>
<line x1="80.4" y1="386.3" x2="80.4" y2="388.7" stroke="#5a5a5a" stroke-width="1.2"/>
<text x="80.4" y="397.4" font-size="8.5" text-anchor="middle" fill="#111" stroke="#111" stroke-width="0.1" textLength="4.5" lengthAdjust="spacingAndGlyphs">8</text>
<line x1="92.8" y1="386.3" x2="92.8" y2="388.7" stroke="#5a5a5a" stroke-width="1.2"/>
<text x="92.8" y="397.4" font-size="8.5" text-anchor="middle" fill="#111" stroke="#111" stroke-width="0.1" textLength="9.01" lengthAdjust="spacingAndGlyphs">10</text>
<line x1="105.2" y1="386.3" x2="105.2" y2="388.7" stroke="#5a5a5a" stroke-width="1.2"/>
<text x="105.2" y="397.4" font-size="8.5" text-anchor="middle" fill="#111" stroke="#111" stroke-width="0.1" textLength="9.01" lengthAdjust="spacingAndGlyphs">12</text>
<line x1="117.6" y1="386.3" x2="117.6" y2="388.7" stroke="#5a5a5a" stroke-width="1.2"/>
<text x="117.6" y="397.4" font-size="8.5" text-anchor="middle" fill="#111" stroke="#111" stroke-width="0.1" textLength="9.01" lengthAdjust="spacingAndGlyphs">14</text>
<line x1="130" y1="386.3" x2="130" y2="388.7" stroke="#5a5a5a" stroke-width="1.2"/>
<text x="130" y="397.4" font-size="8.5" text-anchor="middle" fill="#111" stroke="#111" stroke-width="0.1" textLength="9.01" lengthAdjust="spacingAndGlyphs">16</text>
<line x1="142.4" y1="386.3" x2="142.4" y2="388.7" stroke="#5a5a5a" stroke-width="1.2"/>
<text x="142.4" y="397.4" font-size="8.5" text-anchor="middle" fill="#111" stroke="#111" stroke-width="0.1" textLength="9.01" lengthAdjust="spacingAndGlyphs">18</text>
<line x1="154.8" y1="386.3" x2="154.8" y2="388.7" stroke="#5a5a5a" stroke-width="1.2"/>
<text x="154.8" y="397.4" font-size="8.5" text-anchor="middle" fill="#111" stroke="#111" stroke-width="0.1" textLength="9.01" lengthAdjust="spacingAndGlyphs">20</text>
<line x1="37" y1="386.3" x2="37" y2="387.7" stroke="#5a5a5a" stroke-width="1.2"/>
<line x1="49.4" y1="386.3" x2="49.4" y2="387.7" stroke="#5a5a5a" stroke-width="1.2"/>
<line x1="61.8" y1="386.3" x2="61.8" y2="387.7" stroke="#5a5a5a" stroke-width="1.2"/>
<line x1="74.2" y1="386.3" x2="74.2" y2="387.7" stroke="#5a5a5a" stroke-width="1.2"/>
<line x1="86.6" y1="386.3" x2="86.6" y2="387.7" stroke="#5a5a5a" stroke-width="1.2"/>
<line x1="99" y1="386.3" x2="99" y2="387.7" stroke="#5a5a5a" stroke-width="1.2"/>
<line x1="111.4" y1="386.3" x2="111.4" y2="387.7" stroke="#5a5a5a" stroke-width="1.2"/>
<line x1="123.8" y1="386.3" x2="123.8" y2="387.7" stroke="#5a5a5a" stroke-width="1.2"/>
<line x1="136.2" y1="386.3" x2="136.2" y2="387.7" stroke="#5a5a5a" stroke-width="1.2"/>
<line x1="148.6" y1="386.3" x2="148.6" y2="387.7" stroke="#5a5a5a" stroke-width="1.2"/>
<text x="1.62" y="284.8" font-size="8.0" text-anchor="start" fill="#111" stroke="#111" stroke-width="0.1"  textLength="9.66" lengthAdjust="spacingAndGlyphs">(e)</text>
<text x="0" y="0" font-size="8.5" text-anchor="start" fill="#111" textLength="97.32" lengthAdjust="spacingAndGlyphs" stroke="#111" stroke-width="0.1" transform="translate(8.7,383.21) rotate(-90)">Specific capacitance (F g<tspan dy="-2.81" font-size="5.78">-1</tspan><tspan dy="2.81">)</tspan></text>
<text x="55.79" y="411.2" font-size="8.5" text-anchor="start" fill="#111" stroke="#111" stroke-width="0.1"  textLength="81.02" lengthAdjust="spacingAndGlyphs">Current density (A g<tspan dy="-2.81" font-size="5.78">-1</tspan><tspan dy="2.81">)</tspan></text>
<line x1="74.6" y1="290.6" x2="84.2" y2="290.6" stroke="#111" stroke-width="0.9"/>
<circle cx="79.4" cy="290.6" r="2.3" fill="#fff" stroke="#111" stroke-width="0.8"/>
<path d="M79.4,288.3 A2.3,2.3 0 0 0 79.4,292.9 Z" fill="#111"/>
<text x="86.57" y="292.7" font-size="8.8" text-anchor="start" fill="#111" stroke="#111" stroke-width="0.1"  textLength="33.56" lengthAdjust="spacingAndGlyphs">CuCo<tspan dy="2.64" font-size="6.51">2</tspan><tspan dy="-2.64">O</tspan><tspan dy="2.64" font-size="6.51">4</tspan></text>
<line x1="74.6" y1="301.2" x2="84.2" y2="301.2" stroke="#ff1a1a" stroke-width="0.9"/>
<circle cx="79.4" cy="301.2" r="2.4" fill="#fff" stroke="#ff1a1a" stroke-width="0.8"/>
<path d="M77,301.2 A2.4,2.4 0 0 0 81.8,301.2 Z" fill="#ff1a1a"/>
<text x="86.57" y="303.3" font-size="8.8" text-anchor="start" fill="#ff1a1a" stroke="#ff1a1a" stroke-width="0.1"  textLength="37.56" lengthAdjust="spacingAndGlyphs">NiMn LDH</text>
<line x1="74.6" y1="310.5" x2="84.2" y2="310.5" stroke="#1a1aff" stroke-width="0.9"/>
<path d="M79.4,307.7 L76.6,312.74 L82.2,312.74 Z" fill="#dde" stroke="#1a1aff" stroke-width="0.95" stroke-linejoin="round"/>
<path d="M79.4,307.7 L76.6,312.74 L79.4,312.74 Z" fill="#1a1aff"/>
<text x="86.57" y="312.6" font-size="8.8" text-anchor="start" fill="#1a1aff" stroke="#1a1aff" stroke-width="0.1"  textLength="75.96" lengthAdjust="spacingAndGlyphs">CuCo<tspan dy="2.64" font-size="6.51">2</tspan><tspan dy="-2.64">O</tspan><tspan dy="2.64" font-size="6.51">4</tspan><tspan dy="-2.64">@NiMn LDH</tspan></text>
<circle cx="198.9" cy="383.2" r="1.9" fill="url(#gk)"/>
<circle cx="200.9" cy="382.2" r="1.9" fill="url(#gk)"/>
<circle cx="202.5" cy="380.2" r="1.9" fill="url(#gk)"/>
<circle cx="203.8" cy="378.2" r="1.9" fill="url(#gk)"/>
<circle cx="205.2" cy="376.7" r="1.9" fill="url(#gk)"/>
<circle cx="206.8" cy="375.9" r="1.9" fill="url(#gk)"/>
<circle cx="208.8" cy="375.3" r="1.9" fill="url(#gk)"/>
<circle cx="210.7" cy="374.9" r="1.9" fill="url(#gk)"/>
<circle cx="212.7" cy="374.3" r="1.9" fill="url(#gk)"/>
<circle cx="214.6" cy="372.7" r="1.9" fill="url(#gk)"/>
<circle cx="215.7" cy="371.6" r="1.9" fill="url(#gk)"/>
<circle cx="216.6" cy="370.4" r="1.9" fill="url(#gk)"/>
<circle cx="217.4" cy="368.9" r="1.9" fill="url(#gk)"/>
<circle cx="218.2" cy="367.4" r="1.9" fill="url(#gk)"/>
<circle cx="218.9" cy="365.8" r="1.9" fill="url(#gk)"/>
<circle cx="219.6" cy="364.1" r="1.9" fill="url(#gk)"/>
<circle cx="220.5" cy="360.6" r="1.9" fill="url(#gk)"/>
<circle cx="221.3" cy="358.4" r="1.9" fill="url(#gk)"/>
<circle cx="222.1" cy="356.2" r="1.9" fill="url(#gk)"/>
<circle cx="223.5" cy="351.7" r="1.9" fill="url(#gk)"/>
<circle cx="224.9" cy="345.8" r="1.9" fill="url(#gk)"/>
<circle cx="227" cy="338.6" r="1.9" fill="url(#gk)"/>
<circle cx="229.4" cy="329.1" r="1.9" fill="url(#gk)"/>
<circle cx="232.3" cy="317.7" r="1.9" fill="url(#gk)"/>
<circle cx="235.9" cy="303.2" r="1.9" fill="url(#gk)"/>
<circle cx="244.1" cy="287.5" r="1.9" fill="url(#gk)"/>
<circle cx="197.9" cy="384.1" r="1.9" fill="url(#gr)"/>
<circle cx="199.9" cy="382.2" r="1.9" fill="url(#gr)"/>
<circle cx="200.8" cy="380.8" r="1.9" fill="url(#gr)"/>
<circle cx="201.5" cy="379.2" r="1.9" fill="url(#gr)"/>
<circle cx="202.3" cy="377.5" r="1.9" fill="url(#gr)"/>
<circle cx="202.9" cy="375.9" r="1.9" fill="url(#gr)"/>
<circle cx="203.8" cy="372.4" r="1.9" fill="url(#gr)"/>
<circle cx="204.4" cy="369.4" r="1.9" fill="url(#gr)"/>
<circle cx="204.8" cy="366.1" r="1.9" fill="url(#gr)"/>
<circle cx="205.2" cy="362.6" r="1.9" fill="url(#gr)"/>
<circle cx="205.8" cy="357.6" r="1.9" fill="url(#gr)"/>
<circle cx="206.4" cy="351.2" r="1.9" fill="url(#gr)"/>
<circle cx="207.2" cy="343.9" r="1.9" fill="url(#gr)"/>
<circle cx="207.8" cy="334.6" r="1.9" fill="url(#gr)"/>
<circle cx="208.4" cy="323.2" r="1.9" fill="url(#gr)"/>
<circle cx="209.1" cy="307.5" r="1.9" fill="url(#gr)"/>
<circle cx="209.7" cy="290.2" r="1.9" fill="url(#gr)"/>
<circle cx="197.9" cy="382.2" r="1.9" fill="url(#gb)"/>
<circle cx="198.9" cy="379.2" r="1.9" fill="url(#gb)"/>
<circle cx="199.9" cy="376.3" r="1.9" fill="url(#gb)"/>
<circle cx="200.7" cy="374.6" r="1.9" fill="url(#gb)"/>
<circle cx="201.3" cy="373.3" r="1.9" fill="url(#gb)"/>
<circle cx="202" cy="371.8" r="1.9" fill="url(#gb)"/>
<circle cx="202.5" cy="370.4" r="1.9" fill="url(#gb)"/>
<circle cx="203.2" cy="367.4" r="1.9" fill="url(#gb)"/>
<circle cx="203.7" cy="365.8" r="1.9" fill="url(#gb)"/>
<circle cx="204.2" cy="364.1" r="1.9" fill="url(#gb)"/>
<circle cx="204.8" cy="360.2" r="1.9" fill="url(#gb)"/>
<circle cx="205.8" cy="355.7" r="1.9" fill="url(#gb)"/>
<circle cx="206.4" cy="349.8" r="1.9" fill="url(#gb)"/>
<circle cx="207.2" cy="341.9" r="1.9" fill="url(#gb)"/>
<circle cx="207.8" cy="333" r="1.9" fill="url(#gb)"/>
<circle cx="208.4" cy="321.3" r="1.9" fill="url(#gb)"/>
<circle cx="208.8" cy="305.6" r="1.9" fill="url(#gb)"/>
<circle cx="209.7" cy="286.9" r="1.9" fill="url(#gb)"/>
<rect x="197.5" y="282.1" width="130.1" height="103.7" fill="none" stroke="#5a5a5a" stroke-width="1.2"/>
<line x1="195.1" y1="282" x2="197.5" y2="282" stroke="#5a5a5a" stroke-width="1.2"/>
<text x="192.3" y="284.5" font-size="8.5" text-anchor="end" fill="#111" stroke="#111" stroke-width="0.1" textLength="9.01" lengthAdjust="spacingAndGlyphs">10</text>
<line x1="195.1" y1="301.9" x2="197.5" y2="301.9" stroke="#5a5a5a" stroke-width="1.2"/>
<text x="192.3" y="304.4" font-size="8.5" text-anchor="end" fill="#111" stroke="#111" stroke-width="0.1" textLength="4.5" lengthAdjust="spacingAndGlyphs">8</text>
<line x1="195.1" y1="321.8" x2="197.5" y2="321.8" stroke="#5a5a5a" stroke-width="1.2"/>
<text x="192.3" y="324.3" font-size="8.5" text-anchor="end" fill="#111" stroke="#111" stroke-width="0.1" textLength="4.5" lengthAdjust="spacingAndGlyphs">6</text>
<line x1="195.1" y1="341.7" x2="197.5" y2="341.7" stroke="#5a5a5a" stroke-width="1.2"/>
<text x="192.3" y="344.2" font-size="8.5" text-anchor="end" fill="#111" stroke="#111" stroke-width="0.1" textLength="4.5" lengthAdjust="spacingAndGlyphs">4</text>
<line x1="195.1" y1="361.6" x2="197.5" y2="361.6" stroke="#5a5a5a" stroke-width="1.2"/>
<text x="192.3" y="364.1" font-size="8.5" text-anchor="end" fill="#111" stroke="#111" stroke-width="0.1" textLength="4.5" lengthAdjust="spacingAndGlyphs">2</text>
<line x1="195.1" y1="381.5" x2="197.5" y2="381.5" stroke="#5a5a5a" stroke-width="1.2"/>
<text x="192.3" y="384" font-size="8.5" text-anchor="end" fill="#111" stroke="#111" stroke-width="0.1" textLength="4.5" lengthAdjust="spacingAndGlyphs">0</text>
<line x1="196.1" y1="291.95" x2="197.5" y2="291.95" stroke="#5a5a5a" stroke-width="1.2"/>
<line x1="196.1" y1="311.85" x2="197.5" y2="311.85" stroke="#5a5a5a" stroke-width="1.2"/>
<line x1="196.1" y1="331.75" x2="197.5" y2="331.75" stroke="#5a5a5a" stroke-width="1.2"/>
<line x1="196.1" y1="351.65" x2="197.5" y2="351.65" stroke="#5a5a5a" stroke-width="1.2"/>
<line x1="196.1" y1="371.55" x2="197.5" y2="371.55" stroke="#5a5a5a" stroke-width="1.2"/>
<line x1="224.9" y1="385.8" x2="224.9" y2="388.2" stroke="#5a5a5a" stroke-width="1.2"/>
<text x="224.9" y="398" font-size="8.5" text-anchor="middle" fill="#111" stroke="#111" stroke-width="0.1" textLength="4.5" lengthAdjust="spacingAndGlyphs">5</text>
<line x1="258.8" y1="385.8" x2="258.8" y2="388.2" stroke="#5a5a5a" stroke-width="1.2"/>
<text x="258.8" y="398" font-size="8.5" text-anchor="middle" fill="#111" stroke="#111" stroke-width="0.1" textLength="9.01" lengthAdjust="spacingAndGlyphs">10</text>
<line x1="292.7" y1="385.8" x2="292.7" y2="388.2" stroke="#5a5a5a" stroke-width="1.2"/>
<text x="292.7" y="398" font-size="8.5" text-anchor="middle" fill="#111" stroke="#111" stroke-width="0.1" textLength="9.01" lengthAdjust="spacingAndGlyphs">15</text>
<line x1="326.6" y1="385.8" x2="326.6" y2="388.2" stroke="#5a5a5a" stroke-width="1.2"/>
<text x="326.6" y="398" font-size="8.5" text-anchor="middle" fill="#111" stroke="#111" stroke-width="0.1" textLength="9.01" lengthAdjust="spacingAndGlyphs">20</text>
<line x1="207.95" y1="385.8" x2="207.95" y2="387.2" stroke="#5a5a5a" stroke-width="1.2"/>
<line x1="241.85" y1="385.8" x2="241.85" y2="387.2" stroke="#5a5a5a" stroke-width="1.2"/>
<line x1="275.75" y1="385.8" x2="275.75" y2="387.2" stroke="#5a5a5a" stroke-width="1.2"/>
<line x1="309.65" y1="385.8" x2="309.65" y2="387.2" stroke="#5a5a5a" stroke-width="1.2"/>
<text x="173.92" y="285" font-size="8.0" text-anchor="start" fill="#111" stroke="#111" stroke-width="0.1"  textLength="8.46" lengthAdjust="spacingAndGlyphs">(f)</text>
<text x="0" y="0" font-size="8.5" text-anchor="start" fill="#111" textLength="35.92" lengthAdjust="spacingAndGlyphs" stroke="#111" stroke-width="0.1" transform="translate(177.2,352.11) rotate(-90)">-Z'' (ohm)</text>
<text x="247.09" y="411" font-size="8.5" text-anchor="start" fill="#111" stroke="#111" stroke-width="0.1"  textLength="30.22" lengthAdjust="spacingAndGlyphs">Z' (ohm)</text>
<circle cx="244.8" cy="287.8" r="1.5" fill="url(#gk)"/>
<text x="252.17" y="290.4" font-size="8.8" text-anchor="start" fill="#111" stroke="#111" stroke-width="0.1"  textLength="33.36" lengthAdjust="spacingAndGlyphs">CuCo<tspan dy="2.64" font-size="6.51">2</tspan><tspan dy="-2.64">O</tspan><tspan dy="2.64" font-size="6.51">4</tspan></text>
<circle cx="244.8" cy="298.4" r="1.5" fill="url(#gr)"/>
<text x="252.17" y="301" font-size="8.8" text-anchor="start" fill="#ff1a1a" stroke="#ff1a1a" stroke-width="0.1"  textLength="37.36" lengthAdjust="spacingAndGlyphs">NiMn LDH</text>
<circle cx="244.8" cy="308.5" r="1.5" fill="url(#gb)"/>
<text x="252.17" y="311.1" font-size="8.8" text-anchor="start" fill="#1a1aff" stroke="#1a1aff" stroke-width="0.1"  textLength="76.96" lengthAdjust="spacingAndGlyphs">CuCo<tspan dy="2.64" font-size="6.51">2</tspan><tspan dy="-2.64">O</tspan><tspan dy="2.64" font-size="6.51">4</tspan><tspan dy="-2.64">@NiMn LDH</tspan></text>
<rect x="247.8" y="313.7" width="79.8" height="55.9" fill="#fff" stroke="#5a5a5a" stroke-width="1.2"/>
<circle cx="249" cy="369.3" r="1.0" fill="#22dd22"/>
<circle cx="249.06" cy="368.46" r="1.0" fill="#22dd22"/>
<circle cx="249.13" cy="367.58" r="1.0" fill="#22dd22"/>
<circle cx="249.19" cy="366.77" r="1.0" fill="#22dd22"/>
<circle cx="249.28" cy="365.94" r="1.0" fill="#22dd22"/>
<circle cx="249.4" cy="365" r="1.0" fill="#22dd22"/>
<circle cx="249.54" cy="364.09" r="1.0" fill="#22dd22"/>
<circle cx="249.7" cy="363.15" r="1.0" fill="#22dd22"/>
<circle cx="249.89" cy="362.22" r="1.0" fill="#22dd22"/>
<circle cx="250.12" cy="361.35" r="1.0" fill="#22dd22"/>
<circle cx="250.4" cy="360.6" r="1.0" fill="#22dd22"/>
<circle cx="250.82" cy="359.91" r="1.0" fill="#22dd22"/>
<circle cx="251.39" cy="359.29" r="1.0" fill="#22dd22"/>
<circle cx="252" cy="358.73" r="1.0" fill="#22dd22"/>
<circle cx="252.56" cy="358.12" r="1.0" fill="#22dd22"/>
<circle cx="253.05" cy="357.47" r="1.0" fill="#22dd22"/>
<circle cx="253.51" cy="356.8" r="1.0" fill="#22dd22"/>
<circle cx="254.01" cy="356.11" r="1.0" fill="#22dd22"/>
<circle cx="254.51" cy="355.46" r="1.0" fill="#22dd22"/>
<circle cx="255.02" cy="354.82" r="1.0" fill="#22dd22"/>
<circle cx="255.61" cy="354.11" r="1.0" fill="#22dd22"/>
<circle cx="256.25" cy="353.33" r="1.0" fill="#22dd22"/>
<circle cx="256.92" cy="352.51" r="1.0" fill="#22dd22"/>
<circle cx="257.43" cy="351.88" r="1.0" fill="#22dd22"/>
<circle cx="257.93" cy="351.25" r="1.0" fill="#22dd22"/>
<circle cx="258.56" cy="350.41" r="1.0" fill="#22dd22"/>
<circle cx="259.14" cy="349.6" r="1.0" fill="#22dd22"/>
<circle cx="259.69" cy="348.8" r="1.0" fill="#22dd22"/>
<circle cx="260.23" cy="348" r="1.0" fill="#22dd22"/>
<circle cx="260.76" cy="347.19" r="1.0" fill="#22dd22"/>
<circle cx="261.27" cy="346.38" r="1.0" fill="#22dd22"/>
<circle cx="261.77" cy="345.55" r="1.0" fill="#22dd22"/>
<circle cx="263.22" cy="342.67" r="0.8" fill="#77ee77"/>
<circle cx="264.35" cy="339.66" r="0.8" fill="#77ee77"/>
<circle cx="265.42" cy="336.6" r="0.8" fill="#77ee77"/>
<circle cx="266.73" cy="333.62" r="0.8" fill="#77ee77"/>
<circle cx="267.78" cy="330.52" r="0.8" fill="#77ee77"/>
<circle cx="268.39" cy="327.22" r="0.8" fill="#77ee77"/>
<circle cx="269.21" cy="323.95" r="0.8" fill="#77ee77"/>
<circle cx="270.15" cy="320.79" r="0.8" fill="#77ee77"/>
<circle cx="252.5" cy="369.3" r="0.7" fill="#ff2a2a"/>
<circle cx="252.61" cy="368.4" r="0.7" fill="#ff2a2a"/>
<circle cx="252.75" cy="367.38" r="0.7" fill="#ff2a2a"/>
<circle cx="252.93" cy="366.43" r="0.7" fill="#ff2a2a"/>
<circle cx="253.18" cy="365.56" r="0.7" fill="#ff2a2a"/>
<circle cx="253.53" cy="364.65" r="0.7" fill="#ff2a2a"/>
<circle cx="253.94" cy="363.73" r="0.7" fill="#ff2a2a"/>
<circle cx="254.38" cy="362.88" r="0.7" fill="#ff2a2a"/>
<circle cx="254.86" cy="362.12" r="0.7" fill="#ff2a2a"/>
<circle cx="255.5" cy="361.43" r="0.7" fill="#ff2a2a"/>
<circle cx="256.3" cy="360.98" r="0.7" fill="#ff2a2a"/>
<circle cx="257.22" cy="360.69" r="0.7" fill="#ff2a2a"/>
<circle cx="258.19" cy="360.55" r="0.7" fill="#ff2a2a"/>
<circle cx="259.18" cy="360.48" r="0.7" fill="#ff2a2a"/>
<circle cx="260.1" cy="360.47" r="0.7" fill="#ff2a2a"/>
<circle cx="261.07" cy="360.49" r="0.7" fill="#ff2a2a"/>
<circle cx="262" cy="360.5" r="0.7" fill="#ff2a2a"/>
<circle cx="262.99" cy="360.52" r="0.7" fill="#ff2a2a"/>
<circle cx="263.95" cy="360.54" r="0.7" fill="#ff2a2a"/>
<circle cx="264.88" cy="360.49" r="0.7" fill="#ff2a2a"/>
<circle cx="265.8" cy="360.28" r="0.7" fill="#ff2a2a"/>
<circle cx="266.65" cy="359.87" r="0.7" fill="#ff2a2a"/>
<circle cx="267.42" cy="359.34" r="0.7" fill="#ff2a2a"/>
<circle cx="267.9" cy="358.49" r="0.7" fill="#ff2a2a"/>
<circle cx="268.29" cy="357.55" r="0.7" fill="#ff2a2a"/>
<circle cx="268.65" cy="356.57" r="0.7" fill="#ff2a2a"/>
<circle cx="268.95" cy="355.7" r="0.7" fill="#ff2a2a"/>
<circle cx="269.24" cy="354.82" r="0.7" fill="#ff2a2a"/>
<circle cx="269.55" cy="353.84" r="0.7" fill="#ff2a2a"/>
<circle cx="269.81" cy="352.93" r="0.7" fill="#ff2a2a"/>
<circle cx="270.05" cy="352.03" r="0.7" fill="#ff2a2a"/>
<circle cx="270.7" cy="349.3" r="0.6" fill="#ff7070"/>
<circle cx="271.27" cy="346.49" r="0.6" fill="#ff7070"/>
<circle cx="271.85" cy="343.61" r="0.6" fill="#ff7070"/>
<circle cx="272.54" cy="340.77" r="0.6" fill="#ff7070"/>
<circle cx="273.25" cy="337.94" r="0.6" fill="#ff7070"/>
<circle cx="273.89" cy="335.02" r="0.6" fill="#ff7070"/>
<circle cx="274.49" cy="332.02" r="0.6" fill="#ff7070"/>
<circle cx="275.04" cy="329.27" r="0.6" fill="#ff7070"/>
<circle cx="275.65" cy="326.31" r="0.6" fill="#ff7070"/>
<circle cx="276.28" cy="323.46" r="0.6" fill="#ff7070"/>
<circle cx="276.9" cy="320.64" r="0.6" fill="#ff7070"/>
<circle cx="249.5" cy="369.3" r="1.0" fill="#111"/>
<circle cx="249.7" cy="368.18" r="1.0" fill="#111"/>
<circle cx="249.9" cy="367.04" r="1.0" fill="#111"/>
<circle cx="250.12" cy="365.9" r="1.0" fill="#111"/>
<circle cx="250.29" cy="364.75" r="1.0" fill="#111"/>
<circle cx="250.61" cy="363.62" r="1.0" fill="#111"/>
<circle cx="251.11" cy="362.55" r="1.0" fill="#111"/>
<circle cx="251.72" cy="361.44" r="1.0" fill="#111"/>
<circle cx="252.33" cy="360.43" r="1.0" fill="#111"/>
<circle cx="253" cy="359.44" r="1.0" fill="#111"/>
<circle cx="253.71" cy="358.49" r="1.0" fill="#111"/>
<circle cx="254.48" cy="357.56" r="1.0" fill="#111"/>
<circle cx="255.3" cy="356.61" r="1.0" fill="#111"/>
<circle cx="256.06" cy="355.78" r="1.0" fill="#111"/>
<circle cx="256.88" cy="354.9" r="1.0" fill="#111"/>
<circle cx="257.77" cy="353.99" r="1.0" fill="#111"/>
<circle cx="258.55" cy="353.21" r="1.0" fill="#111"/>
<circle cx="259.36" cy="352.41" r="1.0" fill="#111"/>
<circle cx="260.18" cy="351.61" r="1.0" fill="#111"/>
<circle cx="260.98" cy="350.81" r="1.0" fill="#111"/>
<circle cx="261.77" cy="350.04" r="1.0" fill="#111"/>
<circle cx="262.71" cy="349.13" r="1.0" fill="#111"/>
<circle cx="263.65" cy="348.23" r="1.0" fill="#111"/>
<circle cx="264.59" cy="347.3" r="1.0" fill="#111"/>
<circle cx="265.37" cy="346.49" r="1.0" fill="#111"/>
<circle cx="266.16" cy="345.62" r="1.0" fill="#111"/>
<circle cx="266.94" cy="344.7" r="1.0" fill="#111"/>
<circle cx="267.72" cy="343.72" r="1.0" fill="#111"/>
<circle cx="268.51" cy="342.72" r="1.0" fill="#111"/>
<circle cx="269.29" cy="341.71" r="1.0" fill="#111"/>
<circle cx="270.07" cy="340.7" r="1.0" fill="#111"/>
<circle cx="270.86" cy="339.7" r="1.0" fill="#111"/>
<circle cx="271.64" cy="338.71" r="1.0" fill="#111"/>
<circle cx="272.42" cy="337.71" r="1.0" fill="#111"/>
<circle cx="273.21" cy="336.71" r="1.0" fill="#111"/>
<circle cx="273.99" cy="335.73" r="1.0" fill="#111"/>
<circle cx="274.77" cy="334.76" r="1.0" fill="#111"/>
<circle cx="275.56" cy="333.81" r="1.0" fill="#111"/>
<circle cx="276.34" cy="332.86" r="1.0" fill="#111"/>
<circle cx="277.12" cy="331.91" r="1.0" fill="#111"/>
<circle cx="277.91" cy="330.98" r="1.0" fill="#111"/>
<circle cx="278.69" cy="330.09" r="1.0" fill="#111"/>
<circle cx="279.47" cy="329.28" r="1.0" fill="#111"/>
<circle cx="280.41" cy="328.44" r="1.0" fill="#111"/>
<circle cx="281.37" cy="327.73" r="1.0" fill="#111"/>
<circle cx="282.32" cy="327.14" r="1.0" fill="#111"/>
<circle cx="283.43" cy="326.53" r="1.0" fill="#111"/>
<circle cx="284.5" cy="325.96" r="1.0" fill="#111"/>
<circle cx="285.54" cy="325.4" r="1.0" fill="#111"/>
<circle cx="286.57" cy="324.89" r="1.0" fill="#111"/>
<circle cx="287.71" cy="324.36" r="1.0" fill="#111"/>
<circle cx="288.76" cy="323.9" r="1.0" fill="#111"/>
<circle cx="289.86" cy="323.45" r="1.0" fill="#111"/>
<circle cx="291.77" cy="322.85" r="1.0" fill="#111"/>
<circle cx="293.68" cy="322.47" r="1.0" fill="#111"/>
<circle cx="295.67" cy="322.23" r="1.0" fill="#111"/>
<circle cx="297.65" cy="322.1" r="1.0" fill="#111"/>
<circle cx="299.71" cy="322.03" r="1.0" fill="#111"/>
<circle cx="301.8" cy="322" r="1.0" fill="#111"/>
<circle cx="303.86" cy="322.03" r="1.0" fill="#111"/>
<circle cx="305.95" cy="322.1" r="1.0" fill="#111"/>
<circle cx="308" cy="322.2" r="1.0" fill="#111"/>
<circle cx="309.93" cy="322.38" r="1.0" fill="#111"/>
<circle cx="311.88" cy="322.51" r="1.0" fill="#111"/>
<circle cx="313.79" cy="322.21" r="1.0" fill="#111"/>
<circle cx="315.62" cy="321.53" r="1.0" fill="#111"/>
<circle cx="317.25" cy="320.49" r="1.0" fill="#111"/>
<circle cx="318.67" cy="319.19" r="1.0" fill="#111"/>
<circle cx="320" cy="317.8" r="1.0" fill="#111"/>
<circle cx="321.45" cy="316.46" r="1.0" fill="#111"/>
<circle cx="322.89" cy="315.14" r="1.0" fill="#111"/>
<circle cx="324.29" cy="313.8" r="1.0" fill="#111"/>
<line x1="245.8" y1="369.6" x2="247.8" y2="369.6" stroke="#5a5a5a" stroke-width="1.2"/>
<text x="246.6" y="372.4" font-size="7.6" text-anchor="end" fill="#111" stroke="#111" stroke-width="0.1" >0.0</text>
<line x1="245.8" y1="353.9" x2="247.8" y2="353.9" stroke="#5a5a5a" stroke-width="1.2"/>
<text x="246.6" y="356.7" font-size="7.6" text-anchor="end" fill="#111" stroke="#111" stroke-width="0.1" >0.2</text>
<line x1="245.8" y1="338.2" x2="247.8" y2="338.2" stroke="#5a5a5a" stroke-width="1.2"/>
<text x="246.6" y="341" font-size="7.6" text-anchor="end" fill="#111" stroke="#111" stroke-width="0.1" >0.4</text>
<line x1="245.8" y1="322.5" x2="247.8" y2="322.5" stroke="#5a5a5a" stroke-width="1.2"/>
<text x="246.6" y="325.3" font-size="7.6" text-anchor="end" fill="#111" stroke="#111" stroke-width="0.1" >0.6</text>
<line x1="246.6" y1="361.75" x2="247.8" y2="361.75" stroke="#5a5a5a" stroke-width="1.2"/>
<line x1="246.6" y1="346.05" x2="247.8" y2="346.05" stroke="#5a5a5a" stroke-width="1.2"/>
<line x1="246.6" y1="330.35" x2="247.8" y2="330.35" stroke="#5a5a5a" stroke-width="1.2"/>
<line x1="258.7" y1="369.6" x2="258.7" y2="371.6" stroke="#5a5a5a" stroke-width="1.2"/>
<text x="258.7" y="378.3" font-size="7.2" text-anchor="middle" fill="#111" stroke="#111" stroke-width="0.1" >1.5</text>
<line x1="274.4" y1="369.6" x2="274.4" y2="371.6" stroke="#5a5a5a" stroke-width="1.2"/>
<text x="274.4" y="378.3" font-size="7.2" text-anchor="middle" fill="#111" stroke="#111" stroke-width="0.1" >2.0</text>
<line x1="290.1" y1="369.6" x2="290.1" y2="371.6" stroke="#5a5a5a" stroke-width="1.2"/>
<text x="290.1" y="378.3" font-size="7.2" text-anchor="middle" fill="#111" stroke="#111" stroke-width="0.1" >2.5</text>
<line x1="305.8" y1="369.6" x2="305.8" y2="371.6" stroke="#5a5a5a" stroke-width="1.2"/>
<text x="305.8" y="378.3" font-size="7.2" text-anchor="middle" fill="#111" stroke="#111" stroke-width="0.1" >3.0</text>
<line x1="321.5" y1="369.6" x2="321.5" y2="371.6" stroke="#5a5a5a" stroke-width="1.2"/>
<text x="321.5" y="378.3" font-size="7.2" text-anchor="middle" fill="#111" stroke="#111" stroke-width="0.1" >3.5</text>
<text x="0" y="0" font-size="6.8" text-anchor="start" fill="#111" textLength="26.82" lengthAdjust="spacingAndGlyphs" stroke="#111" stroke-width="0.1" transform="translate(234.5,354.41) rotate(-90)">-Z'' (ohm)</text>
<text x="278.5" y="385.4" font-size="6.6" text-anchor="middle" fill="#111" stroke="#111" stroke-width="0.1" >Z' (ohm)</text>
<line x1="28.9" y1="458.2" x2="327.8" y2="458.2" stroke="#222" stroke-width="0.8" stroke-dasharray="3.6 1.3 0.9 1.3"/>
<circle cx="29.86" cy="460.7" r="1.45" fill="#5858ff" stroke="#1010ea" stroke-width="0.85"/>
<circle cx="31.29" cy="461.38" r="1.45" fill="#5858ff" stroke="#1010ea" stroke-width="0.85"/>
<circle cx="32.73" cy="463.71" r="1.45" fill="#5858ff" stroke="#1010ea" stroke-width="0.85"/>
<circle cx="34.16" cy="460.78" r="1.45" fill="#5858ff" stroke="#1010ea" stroke-width="0.85"/>
<circle cx="35.6" cy="461.05" r="1.45" fill="#5858ff" stroke="#1010ea" stroke-width="0.85"/>
<circle cx="37.03" cy="461.56" r="1.45" fill="#5858ff" stroke="#1010ea" stroke-width="0.85"/>
<circle cx="38.47" cy="458.98" r="1.45" fill="#5858ff" stroke="#1010ea" stroke-width="0.85"/>
<circle cx="39.9" cy="461.08" r="1.45" fill="#5858ff" stroke="#1010ea" stroke-width="0.85"/>
<circle cx="41.34" cy="461.83" r="1.45" fill="#5858ff" stroke="#1010ea" stroke-width="0.85"/>
<circle cx="42.77" cy="462.88" r="1.45" fill="#5858ff" stroke="#1010ea" stroke-width="0.85"/>
<circle cx="44.21" cy="458.4" r="1.45" fill="#5858ff" stroke="#1010ea" stroke-width="0.85"/>
<circle cx="45.64" cy="459.74" r="1.45" fill="#5858ff" stroke="#1010ea" stroke-width="0.85"/>
<circle cx="47.08" cy="458.38" r="1.45" fill="#5858ff" stroke="#1010ea" stroke-width="0.85"/>
<circle cx="48.51" cy="462.98" r="1.45" fill="#5858ff" stroke="#1010ea" stroke-width="0.85"/>
<circle cx="49.95" cy="462.24" r="1.45" fill="#5858ff" stroke="#1010ea" stroke-width="0.85"/>
<circle cx="51.38" cy="449.14" r="1.45" fill="#5858ff" stroke="#1010ea" stroke-width="0.85"/>
<circle cx="52.82" cy="451.42" r="1.45" fill="#5858ff" stroke="#1010ea" stroke-width="0.85"/>
<circle cx="54.26" cy="451.78" r="1.45" fill="#5858ff" stroke="#1010ea" stroke-width="0.85"/>
<circle cx="55.69" cy="451.2" r="1.45" fill="#5858ff" stroke="#1010ea" stroke-width="0.85"/>
<circle cx="57.13" cy="451.68" r="1.45" fill="#5858ff" stroke="#1010ea" stroke-width="0.85"/>
<circle cx="58.56" cy="450.86" r="1.45" fill="#5858ff" stroke="#1010ea" stroke-width="0.85"/>
<circle cx="60" cy="451.05" r="1.45" fill="#5858ff" stroke="#1010ea" stroke-width="0.85"/>
<circle cx="61.43" cy="453.44" r="1.45" fill="#5858ff" stroke="#1010ea" stroke-width="0.85"/>
<circle cx="62.87" cy="450.58" r="1.45" fill="#5858ff" stroke="#1010ea" stroke-width="0.85"/>
<circle cx="64.3" cy="451.59" r="1.45" fill="#5858ff" stroke="#1010ea" stroke-width="0.85"/>
<circle cx="65.74" cy="452.07" r="1.45" fill="#5858ff" stroke="#1010ea" stroke-width="0.85"/>
<circle cx="67.17" cy="450.75" r="1.45" fill="#5858ff" stroke="#1010ea" stroke-width="0.85"/>
<circle cx="68.61" cy="453.83" r="1.45" fill="#5858ff" stroke="#1010ea" stroke-width="0.85"/>
<circle cx="70.04" cy="453.79" r="1.45" fill="#5858ff" stroke="#1010ea" stroke-width="0.85"/>
<circle cx="71.48" cy="456.65" r="1.45" fill="#5858ff" stroke="#1010ea" stroke-width="0.85"/>
<circle cx="72.91" cy="454.58" r="1.45" fill="#5858ff" stroke="#1010ea" stroke-width="0.85"/>
<circle cx="74.35" cy="455.53" r="1.45" fill="#5858ff" stroke="#1010ea" stroke-width="0.85"/>
<circle cx="75.78" cy="454.7" r="1.45" fill="#5858ff" stroke="#1010ea" stroke-width="0.85"/>
<circle cx="77.22" cy="455.93" r="1.45" fill="#5858ff" stroke="#1010ea" stroke-width="0.85"/>
<circle cx="78.65" cy="454.66" r="1.45" fill="#5858ff" stroke="#1010ea" stroke-width="0.85"/>
<circle cx="80.09" cy="453.56" r="1.45" fill="#5858ff" stroke="#1010ea" stroke-width="0.85"/>
<circle cx="81.52" cy="458.58" r="1.45" fill="#5858ff" stroke="#1010ea" stroke-width="0.85"/>
<circle cx="82.96" cy="458.69" r="1.45" fill="#5858ff" stroke="#1010ea" stroke-width="0.85"/>
<circle cx="84.39" cy="457.76" r="1.45" fill="#5858ff" stroke="#1010ea" stroke-width="0.85"/>
<circle cx="85.83" cy="456.95" r="1.45" fill="#5858ff" stroke="#1010ea" stroke-width="0.85"/>
<circle cx="87.26" cy="454.36" r="1.45" fill="#5858ff" stroke="#1010ea" stroke-width="0.85"/>
<circle cx="88.7" cy="453.85" r="1.45" fill="#5858ff" stroke="#1010ea" stroke-width="0.85"/>
<circle cx="90.14" cy="454.32" r="1.45" fill="#5858ff" stroke="#1010ea" stroke-width="0.85"/>
<circle cx="91.57" cy="452.91" r="1.45" fill="#5858ff" stroke="#1010ea" stroke-width="0.85"/>
<circle cx="93.01" cy="457.71" r="1.45" fill="#5858ff" stroke="#1010ea" stroke-width="0.85"/>
<circle cx="94.44" cy="455.29" r="1.45" fill="#5858ff" stroke="#1010ea" stroke-width="0.85"/>
<circle cx="95.88" cy="458.4" r="1.45" fill="#5858ff" stroke="#1010ea" stroke-width="0.85"/>
<circle cx="97.31" cy="455.34" r="1.45" fill="#5858ff" stroke="#1010ea" stroke-width="0.85"/>
<circle cx="98.75" cy="459.3" r="1.45" fill="#5858ff" stroke="#1010ea" stroke-width="0.85"/>
<circle cx="100.18" cy="458.62" r="1.45" fill="#5858ff" stroke="#1010ea" stroke-width="0.85"/>
<circle cx="101.62" cy="452.93" r="1.45" fill="#5858ff" stroke="#1010ea" stroke-width="0.85"/>
<circle cx="103.05" cy="454.43" r="1.45" fill="#5858ff" stroke="#1010ea" stroke-width="0.85"/>
<circle cx="104.49" cy="459.26" r="1.45" fill="#5858ff" stroke="#1010ea" stroke-width="0.85"/>
<circle cx="105.92" cy="456.34" r="1.45" fill="#5858ff" stroke="#1010ea" stroke-width="0.85"/>
<circle cx="107.36" cy="459.88" r="1.45" fill="#5858ff" stroke="#1010ea" stroke-width="0.85"/>
<circle cx="108.79" cy="455.99" r="1.45" fill="#5858ff" stroke="#1010ea" stroke-width="0.85"/>
<circle cx="110.23" cy="453.86" r="1.45" fill="#5858ff" stroke="#1010ea" stroke-width="0.85"/>
<circle cx="111.66" cy="457.71" r="1.45" fill="#5858ff" stroke="#1010ea" stroke-width="0.85"/>
<circle cx="113.1" cy="458.8" r="1.45" fill="#5858ff" stroke="#1010ea" stroke-width="0.85"/>
<circle cx="114.53" cy="455.41" r="1.45" fill="#5858ff" stroke="#1010ea" stroke-width="0.85"/>
<circle cx="115.97" cy="454.29" r="1.45" fill="#5858ff" stroke="#1010ea" stroke-width="0.85"/>
<circle cx="117.4" cy="456.1" r="1.45" fill="#5858ff" stroke="#1010ea" stroke-width="0.85"/>
<circle cx="118.84" cy="460.54" r="1.45" fill="#5858ff" stroke="#1010ea" stroke-width="0.85"/>
<circle cx="120.27" cy="459.28" r="1.45" fill="#5858ff" stroke="#1010ea" stroke-width="0.85"/>
<circle cx="121.71" cy="455.07" r="1.45" fill="#5858ff" stroke="#1010ea" stroke-width="0.85"/>
<circle cx="123.14" cy="456.09" r="1.45" fill="#5858ff" stroke="#1010ea" stroke-width="0.85"/>
<circle cx="124.58" cy="455.25" r="1.45" fill="#5858ff" stroke="#1010ea" stroke-width="0.85"/>
<circle cx="126.02" cy="455.11" r="1.45" fill="#5858ff" stroke="#1010ea" stroke-width="0.85"/>
<circle cx="127.45" cy="460.26" r="1.45" fill="#5858ff" stroke="#1010ea" stroke-width="0.85"/>
<circle cx="128.89" cy="456.2" r="1.45" fill="#5858ff" stroke="#1010ea" stroke-width="0.85"/>
<circle cx="130.32" cy="458.94" r="1.45" fill="#5858ff" stroke="#1010ea" stroke-width="0.85"/>
<circle cx="131.76" cy="458.32" r="1.45" fill="#5858ff" stroke="#1010ea" stroke-width="0.85"/>
<circle cx="133.19" cy="456.72" r="1.45" fill="#5858ff" stroke="#1010ea" stroke-width="0.85"/>
<circle cx="134.63" cy="460.54" r="1.45" fill="#5858ff" stroke="#1010ea" stroke-width="0.85"/>
<circle cx="136.06" cy="456.6" r="1.45" fill="#5858ff" stroke="#1010ea" stroke-width="0.85"/>
<circle cx="137.5" cy="460.23" r="1.45" fill="#5858ff" stroke="#1010ea" stroke-width="0.85"/>
<circle cx="138.93" cy="456.79" r="1.45" fill="#5858ff" stroke="#1010ea" stroke-width="0.85"/>
<circle cx="140.37" cy="459" r="1.45" fill="#5858ff" stroke="#1010ea" stroke-width="0.85"/>
<circle cx="141.8" cy="457.73" r="1.45" fill="#5858ff" stroke="#1010ea" stroke-width="0.85"/>
<circle cx="143.24" cy="458.26" r="1.45" fill="#5858ff" stroke="#1010ea" stroke-width="0.85"/>
<circle cx="144.67" cy="463.17" r="1.45" fill="#5858ff" stroke="#1010ea" stroke-width="0.85"/>
<circle cx="146.11" cy="462.2" r="1.45" fill="#5858ff" stroke="#1010ea" stroke-width="0.85"/>
<circle cx="147.54" cy="458.99" r="1.45" fill="#5858ff" stroke="#1010ea" stroke-width="0.85"/>
<circle cx="148.98" cy="463.12" r="1.45" fill="#5858ff" stroke="#1010ea" stroke-width="0.85"/>
<circle cx="150.41" cy="458.72" r="1.45" fill="#5858ff" stroke="#1010ea" stroke-width="0.85"/>
<circle cx="151.85" cy="460.15" r="1.45" fill="#5858ff" stroke="#1010ea" stroke-width="0.85"/>
<circle cx="153.28" cy="463.46" r="1.45" fill="#5858ff" stroke="#1010ea" stroke-width="0.85"/>
<circle cx="154.72" cy="462.2" r="1.45" fill="#5858ff" stroke="#1010ea" stroke-width="0.85"/>
<circle cx="156.15" cy="458.7" r="1.45" fill="#5858ff" stroke="#1010ea" stroke-width="0.85"/>
<circle cx="157.59" cy="464.92" r="1.45" fill="#5858ff" stroke="#1010ea" stroke-width="0.85"/>
<circle cx="159.02" cy="459.83" r="1.45" fill="#5858ff" stroke="#1010ea" stroke-width="0.85"/>
<circle cx="160.46" cy="460.31" r="1.45" fill="#5858ff" stroke="#1010ea" stroke-width="0.85"/>
<circle cx="161.9" cy="463.99" r="1.45" fill="#5858ff" stroke="#1010ea" stroke-width="0.85"/>
<circle cx="163.33" cy="461.16" r="1.45" fill="#5858ff" stroke="#1010ea" stroke-width="0.85"/>
<circle cx="164.77" cy="461.12" r="1.45" fill="#5858ff" stroke="#1010ea" stroke-width="0.85"/>
<circle cx="166.2" cy="459.78" r="1.45" fill="#5858ff" stroke="#1010ea" stroke-width="0.85"/>
<circle cx="167.64" cy="460.08" r="1.45" fill="#5858ff" stroke="#1010ea" stroke-width="0.85"/>
<circle cx="169.07" cy="463.61" r="1.45" fill="#5858ff" stroke="#1010ea" stroke-width="0.85"/>
<circle cx="170.51" cy="461.48" r="1.45" fill="#5858ff" stroke="#1010ea" stroke-width="0.85"/>
<circle cx="171.94" cy="464.1" r="1.45" fill="#5858ff" stroke="#1010ea" stroke-width="0.85"/>
<circle cx="173.38" cy="462.72" r="1.45" fill="#5858ff" stroke="#1010ea" stroke-width="0.85"/>
<circle cx="174.81" cy="463.46" r="1.45" fill="#5858ff" stroke="#1010ea" stroke-width="0.85"/>
<circle cx="176.25" cy="467.06" r="1.45" fill="#5858ff" stroke="#1010ea" stroke-width="0.85"/>
<circle cx="177.68" cy="463.98" r="1.45" fill="#5858ff" stroke="#1010ea" stroke-width="0.85"/>
<circle cx="179.12" cy="464.75" r="1.45" fill="#5858ff" stroke="#1010ea" stroke-width="0.85"/>
<circle cx="180.55" cy="466.88" r="1.45" fill="#5858ff" stroke="#1010ea" stroke-width="0.85"/>
<circle cx="181.99" cy="462.39" r="1.45" fill="#5858ff" stroke="#1010ea" stroke-width="0.85"/>
<circle cx="183.42" cy="462.35" r="1.45" fill="#5858ff" stroke="#1010ea" stroke-width="0.85"/>
<circle cx="184.86" cy="467.63" r="1.45" fill="#5858ff" stroke="#1010ea" stroke-width="0.85"/>
<circle cx="186.29" cy="467.17" r="1.45" fill="#5858ff" stroke="#1010ea" stroke-width="0.85"/>
<circle cx="187.73" cy="463.45" r="1.45" fill="#5858ff" stroke="#1010ea" stroke-width="0.85"/>
<circle cx="189.16" cy="463.2" r="1.45" fill="#5858ff" stroke="#1010ea" stroke-width="0.85"/>
<circle cx="190.6" cy="467.09" r="1.45" fill="#5858ff" stroke="#1010ea" stroke-width="0.85"/>
<circle cx="192.03" cy="468.61" r="1.45" fill="#5858ff" stroke="#1010ea" stroke-width="0.85"/>
<circle cx="193.47" cy="463.71" r="1.45" fill="#5858ff" stroke="#1010ea" stroke-width="0.85"/>
<circle cx="194.9" cy="468.98" r="1.45" fill="#5858ff" stroke="#1010ea" stroke-width="0.85"/>
<circle cx="196.34" cy="468.68" r="1.45" fill="#5858ff" stroke="#1010ea" stroke-width="0.85"/>
<circle cx="197.78" cy="466.93" r="1.45" fill="#5858ff" stroke="#1010ea" stroke-width="0.85"/>
<circle cx="199.21" cy="465.85" r="1.45" fill="#5858ff" stroke="#1010ea" stroke-width="0.85"/>
<circle cx="200.65" cy="463.84" r="1.45" fill="#5858ff" stroke="#1010ea" stroke-width="0.85"/>
<circle cx="202.08" cy="463.55" r="1.45" fill="#5858ff" stroke="#1010ea" stroke-width="0.85"/>
<circle cx="203.52" cy="469.99" r="1.45" fill="#5858ff" stroke="#1010ea" stroke-width="0.85"/>
<circle cx="204.95" cy="465.22" r="1.45" fill="#5858ff" stroke="#1010ea" stroke-width="0.85"/>
<circle cx="206.39" cy="468.55" r="1.45" fill="#5858ff" stroke="#1010ea" stroke-width="0.85"/>
<circle cx="207.82" cy="465.68" r="1.45" fill="#5858ff" stroke="#1010ea" stroke-width="0.85"/>
<circle cx="209.26" cy="469.7" r="1.45" fill="#5858ff" stroke="#1010ea" stroke-width="0.85"/>
<circle cx="210.69" cy="468.32" r="1.45" fill="#5858ff" stroke="#1010ea" stroke-width="0.85"/>
<circle cx="212.13" cy="466.43" r="1.45" fill="#5858ff" stroke="#1010ea" stroke-width="0.85"/>
<circle cx="213.56" cy="465.79" r="1.45" fill="#5858ff" stroke="#1010ea" stroke-width="0.85"/>
<circle cx="215" cy="469.66" r="1.45" fill="#5858ff" stroke="#1010ea" stroke-width="0.85"/>
<circle cx="216.43" cy="465.4" r="1.45" fill="#5858ff" stroke="#1010ea" stroke-width="0.85"/>
<circle cx="217.87" cy="466.65" r="1.45" fill="#5858ff" stroke="#1010ea" stroke-width="0.85"/>
<circle cx="219.3" cy="469.07" r="1.45" fill="#5858ff" stroke="#1010ea" stroke-width="0.85"/>
<circle cx="220.74" cy="471.23" r="1.45" fill="#5858ff" stroke="#1010ea" stroke-width="0.85"/>
<circle cx="222.17" cy="469.78" r="1.45" fill="#5858ff" stroke="#1010ea" stroke-width="0.85"/>
<circle cx="223.61" cy="467.68" r="1.45" fill="#5858ff" stroke="#1010ea" stroke-width="0.85"/>
<circle cx="225.04" cy="472.18" r="1.45" fill="#5858ff" stroke="#1010ea" stroke-width="0.85"/>
<circle cx="226.48" cy="467.49" r="1.45" fill="#5858ff" stroke="#1010ea" stroke-width="0.85"/>
<circle cx="227.91" cy="466.39" r="1.45" fill="#5858ff" stroke="#1010ea" stroke-width="0.85"/>
<circle cx="229.35" cy="468.27" r="1.45" fill="#5858ff" stroke="#1010ea" stroke-width="0.85"/>
<circle cx="230.78" cy="469.64" r="1.45" fill="#5858ff" stroke="#1010ea" stroke-width="0.85"/>
<circle cx="232.22" cy="467.19" r="1.45" fill="#5858ff" stroke="#1010ea" stroke-width="0.85"/>
<circle cx="233.66" cy="468.14" r="1.45" fill="#5858ff" stroke="#1010ea" stroke-width="0.85"/>
<circle cx="235.09" cy="469.62" r="1.45" fill="#5858ff" stroke="#1010ea" stroke-width="0.85"/>
<circle cx="236.53" cy="471.12" r="1.45" fill="#5858ff" stroke="#1010ea" stroke-width="0.85"/>
<circle cx="237.96" cy="468.24" r="1.45" fill="#5858ff" stroke="#1010ea" stroke-width="0.85"/>
<circle cx="239.4" cy="469.93" r="1.45" fill="#5858ff" stroke="#1010ea" stroke-width="0.85"/>
<circle cx="240.83" cy="473.64" r="1.45" fill="#5858ff" stroke="#1010ea" stroke-width="0.85"/>
<circle cx="242.27" cy="474.37" r="1.45" fill="#5858ff" stroke="#1010ea" stroke-width="0.85"/>
<circle cx="243.7" cy="472.29" r="1.45" fill="#5858ff" stroke="#1010ea" stroke-width="0.85"/>
<circle cx="245.14" cy="472.65" r="1.45" fill="#5858ff" stroke="#1010ea" stroke-width="0.85"/>
<circle cx="246.57" cy="472.04" r="1.45" fill="#5858ff" stroke="#1010ea" stroke-width="0.85"/>
<circle cx="248.01" cy="469.14" r="1.45" fill="#5858ff" stroke="#1010ea" stroke-width="0.85"/>
<circle cx="249.44" cy="468.54" r="1.45" fill="#5858ff" stroke="#1010ea" stroke-width="0.85"/>
<circle cx="250.88" cy="468.54" r="1.45" fill="#5858ff" stroke="#1010ea" stroke-width="0.85"/>
<circle cx="252.31" cy="474.73" r="1.45" fill="#5858ff" stroke="#1010ea" stroke-width="0.85"/>
<circle cx="253.75" cy="473.43" r="1.45" fill="#5858ff" stroke="#1010ea" stroke-width="0.85"/>
<circle cx="255.18" cy="475.33" r="1.45" fill="#5858ff" stroke="#1010ea" stroke-width="0.85"/>
<circle cx="256.62" cy="469.05" r="1.45" fill="#5858ff" stroke="#1010ea" stroke-width="0.85"/>
<circle cx="258.05" cy="473.35" r="1.45" fill="#5858ff" stroke="#1010ea" stroke-width="0.85"/>
<circle cx="259.49" cy="472.42" r="1.45" fill="#5858ff" stroke="#1010ea" stroke-width="0.85"/>
<circle cx="260.92" cy="474.23" r="1.45" fill="#5858ff" stroke="#1010ea" stroke-width="0.85"/>
<circle cx="262.36" cy="471.55" r="1.45" fill="#5858ff" stroke="#1010ea" stroke-width="0.85"/>
<circle cx="263.79" cy="476.3" r="1.45" fill="#5858ff" stroke="#1010ea" stroke-width="0.85"/>
<circle cx="265.23" cy="470.14" r="1.45" fill="#5858ff" stroke="#1010ea" stroke-width="0.85"/>
<circle cx="266.66" cy="473.52" r="1.45" fill="#5858ff" stroke="#1010ea" stroke-width="0.85"/>
<circle cx="268.1" cy="475" r="1.45" fill="#5858ff" stroke="#1010ea" stroke-width="0.85"/>
<circle cx="269.54" cy="476.29" r="1.45" fill="#5858ff" stroke="#1010ea" stroke-width="0.85"/>
<circle cx="270.97" cy="475.36" r="1.45" fill="#5858ff" stroke="#1010ea" stroke-width="0.85"/>
<circle cx="272.41" cy="475.31" r="1.45" fill="#5858ff" stroke="#1010ea" stroke-width="0.85"/>
<circle cx="273.84" cy="476.1" r="1.45" fill="#5858ff" stroke="#1010ea" stroke-width="0.85"/>
<circle cx="275.28" cy="477.11" r="1.45" fill="#5858ff" stroke="#1010ea" stroke-width="0.85"/>
<circle cx="276.71" cy="473.46" r="1.45" fill="#5858ff" stroke="#1010ea" stroke-width="0.85"/>
<circle cx="278.15" cy="475.9" r="1.45" fill="#5858ff" stroke="#1010ea" stroke-width="0.85"/>
<circle cx="279.58" cy="477.55" r="1.45" fill="#5858ff" stroke="#1010ea" stroke-width="0.85"/>
<circle cx="281.02" cy="477.53" r="1.45" fill="#5858ff" stroke="#1010ea" stroke-width="0.85"/>
<circle cx="282.45" cy="474.62" r="1.45" fill="#5858ff" stroke="#1010ea" stroke-width="0.85"/>
<circle cx="283.89" cy="477.34" r="1.45" fill="#5858ff" stroke="#1010ea" stroke-width="0.85"/>
<circle cx="285.32" cy="478.01" r="1.45" fill="#5858ff" stroke="#1010ea" stroke-width="0.85"/>
<circle cx="286.76" cy="476.21" r="1.45" fill="#5858ff" stroke="#1010ea" stroke-width="0.85"/>
<circle cx="288.19" cy="476.75" r="1.45" fill="#5858ff" stroke="#1010ea" stroke-width="0.85"/>
<circle cx="289.63" cy="475.28" r="1.45" fill="#5858ff" stroke="#1010ea" stroke-width="0.85"/>
<circle cx="291.06" cy="476.82" r="1.45" fill="#5858ff" stroke="#1010ea" stroke-width="0.85"/>
<circle cx="292.5" cy="477.18" r="1.45" fill="#5858ff" stroke="#1010ea" stroke-width="0.85"/>
<circle cx="293.93" cy="473.76" r="1.45" fill="#5858ff" stroke="#1010ea" stroke-width="0.85"/>
<circle cx="295.37" cy="477.74" r="1.45" fill="#5858ff" stroke="#1010ea" stroke-width="0.85"/>
<circle cx="296.8" cy="480.33" r="1.45" fill="#5858ff" stroke="#1010ea" stroke-width="0.85"/>
<circle cx="298.24" cy="479.74" r="1.45" fill="#5858ff" stroke="#1010ea" stroke-width="0.85"/>
<circle cx="299.67" cy="478.89" r="1.45" fill="#5858ff" stroke="#1010ea" stroke-width="0.85"/>
<circle cx="301.11" cy="476.76" r="1.45" fill="#5858ff" stroke="#1010ea" stroke-width="0.85"/>
<circle cx="302.54" cy="479.29" r="1.45" fill="#5858ff" stroke="#1010ea" stroke-width="0.85"/>
<circle cx="303.98" cy="478.42" r="1.45" fill="#5858ff" stroke="#1010ea" stroke-width="0.85"/>
<circle cx="305.42" cy="477.65" r="1.45" fill="#5858ff" stroke="#1010ea" stroke-width="0.85"/>
<circle cx="306.85" cy="480.53" r="1.45" fill="#5858ff" stroke="#1010ea" stroke-width="0.85"/>
<circle cx="308.29" cy="475.58" r="1.45" fill="#5858ff" stroke="#1010ea" stroke-width="0.85"/>
<circle cx="309.72" cy="480.29" r="1.45" fill="#5858ff" stroke="#1010ea" stroke-width="0.85"/>
<circle cx="311.16" cy="475.57" r="1.45" fill="#5858ff" stroke="#1010ea" stroke-width="0.85"/>
<circle cx="312.59" cy="479.64" r="1.45" fill="#5858ff" stroke="#1010ea" stroke-width="0.85"/>
<circle cx="314.03" cy="478.87" r="1.45" fill="#5858ff" stroke="#1010ea" stroke-width="0.85"/>
<circle cx="315.46" cy="477.17" r="1.45" fill="#5858ff" stroke="#1010ea" stroke-width="0.85"/>
<circle cx="314.5" cy="471.5" r="1.45" fill="#5858ff" stroke="#1010ea" stroke-width="0.85"/>
<circle cx="316.5" cy="470.5" r="1.45" fill="#5858ff" stroke="#1010ea" stroke-width="0.85"/>
<circle cx="318.5" cy="472.8" r="1.45" fill="#5858ff" stroke="#1010ea" stroke-width="0.85"/>
<circle cx="320" cy="475" r="1.45" fill="#5858ff" stroke="#1010ea" stroke-width="0.85"/>
<circle cx="321.6" cy="479.2" r="1.45" fill="#5858ff" stroke="#1010ea" stroke-width="0.85"/>
<circle cx="323.4" cy="481" r="1.45" fill="#5858ff" stroke="#1010ea" stroke-width="0.85"/>
<circle cx="324.8" cy="481.6" r="1.45" fill="#5858ff" stroke="#1010ea" stroke-width="0.85"/>
<rect x="28.9" y="417.6" width="298.9" height="103.5" fill="none" stroke="#5a5a5a" stroke-width="1.2"/>
<line x1="26.5" y1="417.7" x2="28.9" y2="417.7" stroke="#5a5a5a" stroke-width="1.2"/>
<text x="25.6" y="420.2" font-size="8.5" text-anchor="end" fill="#111" stroke="#111" stroke-width="0.1" textLength="12.91" lengthAdjust="spacingAndGlyphs">110</text>
<line x1="26.5" y1="438.36" x2="28.9" y2="438.36" stroke="#5a5a5a" stroke-width="1.2"/>
<text x="25.6" y="440.86" font-size="8.5" text-anchor="end" fill="#111" stroke="#111" stroke-width="0.1" textLength="13.51" lengthAdjust="spacingAndGlyphs">105</text>
<line x1="26.5" y1="459.02" x2="28.9" y2="459.02" stroke="#5a5a5a" stroke-width="1.2"/>
<text x="25.6" y="461.52" font-size="8.5" text-anchor="end" fill="#111" stroke="#111" stroke-width="0.1" textLength="13.51" lengthAdjust="spacingAndGlyphs">100</text>
<line x1="26.5" y1="479.68" x2="28.9" y2="479.68" stroke="#5a5a5a" stroke-width="1.2"/>
<text x="25.6" y="482.18" font-size="8.5" text-anchor="end" fill="#111" stroke="#111" stroke-width="0.1" textLength="9.01" lengthAdjust="spacingAndGlyphs">95</text>
<line x1="26.5" y1="500.34" x2="28.9" y2="500.34" stroke="#5a5a5a" stroke-width="1.2"/>
<text x="25.6" y="502.84" font-size="8.5" text-anchor="end" fill="#111" stroke="#111" stroke-width="0.1" textLength="9.01" lengthAdjust="spacingAndGlyphs">90</text>
<line x1="26.5" y1="521" x2="28.9" y2="521" stroke="#5a5a5a" stroke-width="1.2"/>
<text x="25.6" y="523.5" font-size="8.5" text-anchor="end" fill="#111" stroke="#111" stroke-width="0.1" textLength="9.01" lengthAdjust="spacingAndGlyphs">85</text>
<line x1="27.5" y1="428.03" x2="28.9" y2="428.03" stroke="#5a5a5a" stroke-width="1.2"/>
<line x1="27.5" y1="448.69" x2="28.9" y2="448.69" stroke="#5a5a5a" stroke-width="1.2"/>
<line x1="27.5" y1="469.35" x2="28.9" y2="469.35" stroke="#5a5a5a" stroke-width="1.2"/>
<line x1="27.5" y1="490.01" x2="28.9" y2="490.01" stroke="#5a5a5a" stroke-width="1.2"/>
<line x1="27.5" y1="510.67" x2="28.9" y2="510.67" stroke="#5a5a5a" stroke-width="1.2"/>
<line x1="28.9" y1="521.1" x2="28.9" y2="523.5" stroke="#5a5a5a" stroke-width="1.2"/>
<text x="28.9" y="533" font-size="8.5" text-anchor="middle" fill="#111" stroke="#111" stroke-width="0.1" textLength="4.5" lengthAdjust="spacingAndGlyphs">0</text>
<line x1="88.7" y1="521.1" x2="88.7" y2="523.5" stroke="#5a5a5a" stroke-width="1.2"/>
<text x="88.7" y="533" font-size="8.5" text-anchor="middle" fill="#111" stroke="#111" stroke-width="0.1" textLength="13.51" lengthAdjust="spacingAndGlyphs">500</text>
<line x1="148.5" y1="521.1" x2="148.5" y2="523.5" stroke="#5a5a5a" stroke-width="1.2"/>
<text x="148.5" y="533" font-size="8.5" text-anchor="middle" fill="#111" stroke="#111" stroke-width="0.1" textLength="18.02" lengthAdjust="spacingAndGlyphs">1000</text>
<line x1="208.3" y1="521.1" x2="208.3" y2="523.5" stroke="#5a5a5a" stroke-width="1.2"/>
<text x="208.3" y="533" font-size="8.5" text-anchor="middle" fill="#111" stroke="#111" stroke-width="0.1" textLength="18.02" lengthAdjust="spacingAndGlyphs">1500</text>
<line x1="268.1" y1="521.1" x2="268.1" y2="523.5" stroke="#5a5a5a" stroke-width="1.2"/>
<text x="268.1" y="533" font-size="8.5" text-anchor="middle" fill="#111" stroke="#111" stroke-width="0.1" textLength="18.02" lengthAdjust="spacingAndGlyphs">2000</text>
<line x1="327.9" y1="521.1" x2="327.9" y2="523.5" stroke="#5a5a5a" stroke-width="1.2"/>
<text x="327.9" y="533" font-size="8.5" text-anchor="middle" fill="#111" stroke="#111" stroke-width="0.1" textLength="18.02" lengthAdjust="spacingAndGlyphs">2500</text>
<line x1="58.8" y1="521.1" x2="58.8" y2="522.5" stroke="#5a5a5a" stroke-width="1.2"/>
<line x1="118.6" y1="521.1" x2="118.6" y2="522.5" stroke="#5a5a5a" stroke-width="1.2"/>
<line x1="178.4" y1="521.1" x2="178.4" y2="522.5" stroke="#5a5a5a" stroke-width="1.2"/>
<line x1="238.2" y1="521.1" x2="238.2" y2="522.5" stroke="#5a5a5a" stroke-width="1.2"/>
<line x1="298" y1="521.1" x2="298" y2="522.5" stroke="#5a5a5a" stroke-width="1.2"/>
<text x="2.12" y="416.8" font-size="8.0" text-anchor="start" fill="#111" stroke="#111" stroke-width="0.1"  textLength="10.76" lengthAdjust="spacingAndGlyphs">(g)</text>
<text x="0" y="0" font-size="8.5" text-anchor="start" fill="#111" textLength="93.02" lengthAdjust="spacingAndGlyphs" stroke="#111" stroke-width="0.1" transform="translate(9.6,515.71) rotate(-90)">Capacitance retention (%)</text>
<text x="153.59" y="545.7" font-size="8.5" text-anchor="start" fill="#111" stroke="#111" stroke-width="0.1"  textLength="49.32" lengthAdjust="spacingAndGlyphs">Cycle number</text>
<line x1="52.6" y1="444.2" x2="60" y2="437.6" stroke="#222" stroke-width="0.6"/>
<path d="M60,437.6 L59.06,439.59 L57.92,438.31 Z" fill="#222"/>
<text x="60.86" y="435.4" font-size="9.0" text-anchor="start" fill="#111" stroke="#111" stroke-width="0.1"  textLength="31.58" lengthAdjust="spacingAndGlyphs">103.1%</text>
<text x="288.86" y="433.6" font-size="9.0" text-anchor="start" fill="#111" stroke="#111" stroke-width="0.1"  textLength="30.18" lengthAdjust="spacingAndGlyphs">5 A g<tspan dy="-2.97" font-size="6.12">-1</tspan></text>
<line x1="313.1" y1="497.9" x2="324.1" y2="484.6" stroke="#222" stroke-width="0.6"/>
<path d="M324.1,484.6 L323.47,486.71 L322.15,485.62 Z" fill="#222"/>
<text x="286.06" y="505.4" font-size="9.0" text-anchor="start" fill="#111" stroke="#111" stroke-width="0.1"  textLength="26.88" lengthAdjust="spacingAndGlyphs">94.6%</text>
</svg></body></html>
